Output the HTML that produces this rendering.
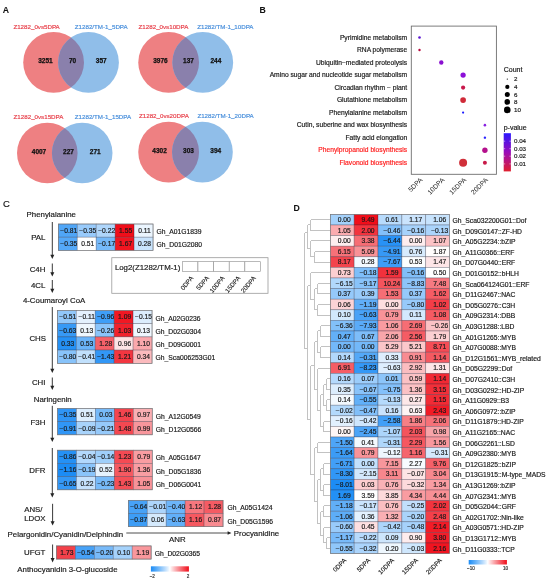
<!DOCTYPE html>
<html><head><meta charset="utf-8"><title>Figure</title>
<style>html,body{margin:0;padding:0;background:#fff;} svg{display:block;}</style></head>
<body><svg width="550" height="580" viewBox="0 0 550 580" font-family="'Liberation Sans', Arial, Helvetica, sans-serif">
<rect width="550" height="580" fill="#fff"/>
<text x="2.80" y="12.70" font-size="8.7" text-anchor="start" font-weight="bold" fill="#111" stroke="#111" stroke-width="0.05">A</text>
<clipPath id="vc0"><circle cx="53.6" cy="62.4" r="30.4"/></clipPath>
<circle cx="53.6" cy="62.4" r="30.4" fill="#ee8082"/>
<circle cx="88.5" cy="62.4" r="30.4" fill="#90bee9"/>
<circle cx="88.5" cy="62.4" r="30.4" fill="#8a80ac" clip-path="url(#vc0)"/>
<text x="13.40" y="29.20" font-size="6.2" text-anchor="start" fill="#e8424c"  stroke="#e8424c" stroke-width="0.18">Z1282_0vs5DPA</text>
<text x="74.80" y="29.20" font-size="6.2" text-anchor="start" fill="#4a90dc"  stroke="#4a90dc" stroke-width="0.18">Z1282/TM-1_5DPA</text>
<text x="45.40" y="63.20" font-size="6.5" text-anchor="middle" font-weight="bold" fill="#111" stroke="#111" stroke-width="0.25">3251</text>
<text x="72.50" y="63.20" font-size="6.5" text-anchor="middle" font-weight="bold" fill="#111" stroke="#111" stroke-width="0.25">70</text>
<text x="101.30" y="63.20" font-size="6.5" text-anchor="middle" font-weight="bold" fill="#111" stroke="#111" stroke-width="0.25">357</text>
<clipPath id="vc1"><circle cx="168.65" cy="62.45" r="30.4"/></clipPath>
<circle cx="168.65" cy="62.45" r="30.4" fill="#ee8082"/>
<circle cx="202.75" cy="62.45" r="30.4" fill="#90bee9"/>
<circle cx="202.75" cy="62.45" r="30.4" fill="#8a80ac" clip-path="url(#vc1)"/>
<text x="138.60" y="29.10" font-size="6.2" text-anchor="start" fill="#e8424c"  stroke="#e8424c" stroke-width="0.18">Z1282_0vs10DPA</text>
<text x="197.20" y="29.10" font-size="6.2" text-anchor="start" fill="#4a90dc"  stroke="#4a90dc" stroke-width="0.18">Z1282/TM-1_10DPA</text>
<text x="160.40" y="63.25" font-size="6.5" text-anchor="middle" font-weight="bold" fill="#111" stroke="#111" stroke-width="0.25">3976</text>
<text x="188.50" y="63.25" font-size="6.5" text-anchor="middle" font-weight="bold" fill="#111" stroke="#111" stroke-width="0.25">137</text>
<text x="215.90" y="63.25" font-size="6.5" text-anchor="middle" font-weight="bold" fill="#111" stroke="#111" stroke-width="0.25">244</text>
<clipPath id="vc2"><circle cx="47.3" cy="153.0" r="30.3"/></clipPath>
<circle cx="47.3" cy="153.0" r="30.3" fill="#ee8082"/>
<circle cx="82.2" cy="153.0" r="30.3" fill="#90bee9"/>
<circle cx="82.2" cy="153.0" r="30.3" fill="#8a80ac" clip-path="url(#vc2)"/>
<text x="13.60" y="119.10" font-size="6.2" text-anchor="start" fill="#e8424c"  stroke="#e8424c" stroke-width="0.18">Z1282_0vs15DPA</text>
<text x="74.80" y="119.10" font-size="6.2" text-anchor="start" fill="#4a90dc"  stroke="#4a90dc" stroke-width="0.18">Z1282/TM-1_15DPA</text>
<text x="39.00" y="153.80" font-size="6.5" text-anchor="middle" font-weight="bold" fill="#111" stroke="#111" stroke-width="0.25">4007</text>
<text x="68.50" y="153.80" font-size="6.5" text-anchor="middle" font-weight="bold" fill="#111" stroke="#111" stroke-width="0.25">227</text>
<text x="95.20" y="153.80" font-size="6.5" text-anchor="middle" font-weight="bold" fill="#111" stroke="#111" stroke-width="0.25">271</text>
<clipPath id="vc3"><circle cx="168.65" cy="152.1" r="30.4"/></clipPath>
<circle cx="168.65" cy="152.1" r="30.4" fill="#ee8082"/>
<circle cx="202.4" cy="152.1" r="30.4" fill="#90bee9"/>
<circle cx="202.4" cy="152.1" r="30.4" fill="#8a80ac" clip-path="url(#vc3)"/>
<text x="139.00" y="117.90" font-size="6.2" text-anchor="start" fill="#e8424c"  stroke="#e8424c" stroke-width="0.18">Z1282_0vs20DPA</text>
<text x="197.40" y="117.90" font-size="6.2" text-anchor="start" fill="#4a90dc"  stroke="#4a90dc" stroke-width="0.18">Z1282/TM-1_20DPA</text>
<text x="159.60" y="152.90" font-size="6.5" text-anchor="middle" font-weight="bold" fill="#111" stroke="#111" stroke-width="0.25">4302</text>
<text x="188.50" y="152.90" font-size="6.5" text-anchor="middle" font-weight="bold" fill="#111" stroke="#111" stroke-width="0.25">303</text>
<text x="215.70" y="152.90" font-size="6.5" text-anchor="middle" font-weight="bold" fill="#111" stroke="#111" stroke-width="0.25">394</text>
<text x="259.40" y="12.70" font-size="8.7" text-anchor="start" font-weight="bold" fill="#111" stroke="#111" stroke-width="0.05">B</text>
<text x="407.20" y="39.80" font-size="6.7" text-anchor="end" fill="#1a1a1a"  stroke="#1a1a1a" stroke-width="0.18">Pyrimidine metabolism</text>
<text x="407.20" y="52.32" font-size="6.7" text-anchor="end" fill="#1a1a1a"  stroke="#1a1a1a" stroke-width="0.18">RNA polymerase</text>
<text x="407.20" y="64.84" font-size="6.7" text-anchor="end" fill="#1a1a1a"  stroke="#1a1a1a" stroke-width="0.18">Ubiquitin−mediated proteolysis</text>
<text x="407.20" y="77.36" font-size="6.7" text-anchor="end" fill="#1a1a1a"  stroke="#1a1a1a" stroke-width="0.18">Amino sugar and nucleotide sugar metabolism</text>
<text x="407.20" y="89.88" font-size="6.7" text-anchor="end" fill="#1a1a1a"  stroke="#1a1a1a" stroke-width="0.18">Circadian rhythm − plant</text>
<text x="407.20" y="102.40" font-size="6.7" text-anchor="end" fill="#1a1a1a"  stroke="#1a1a1a" stroke-width="0.18">Glutathione metabolism</text>
<text x="407.20" y="114.92" font-size="6.7" text-anchor="end" fill="#1a1a1a"  stroke="#1a1a1a" stroke-width="0.18">Phenylalanine metabolism</text>
<text x="407.20" y="127.44" font-size="6.7" text-anchor="end" fill="#1a1a1a"  stroke="#1a1a1a" stroke-width="0.18">Cutin, suberine and wax biosynthesis</text>
<text x="407.20" y="139.96" font-size="6.7" text-anchor="end" fill="#1a1a1a"  stroke="#1a1a1a" stroke-width="0.18">Fatty acid elongation</text>
<text x="407.20" y="152.48" font-size="6.7" text-anchor="end" fill="#ff2020"  stroke="#ff2020" stroke-width="0.18">Phenylpropanoid biosynthesis</text>
<text x="407.20" y="165.00" font-size="6.7" text-anchor="end" fill="#ff2020"  stroke="#ff2020" stroke-width="0.18">Flavonoid biosynthesis</text>
<rect x="411.3" y="26.1" width="85.1" height="148.2" fill="none" stroke="#6e6e6e" stroke-width="0.9"/>
<circle cx="419.5" cy="37.50" r="1.3" fill="#5a14d2"/>
<circle cx="419.5" cy="50.02" r="1.2" fill="#b8083c"/>
<circle cx="441.3" cy="62.54" r="2.2" fill="#8a10d0"/>
<circle cx="463.1" cy="75.06" r="2.65" fill="#8c10d8"/>
<circle cx="463.1" cy="87.58" r="2.1" fill="#c8184c"/>
<circle cx="463.1" cy="100.10" r="2.85" fill="#d02a38"/>
<circle cx="463.1" cy="112.62" r="1.1" fill="#1a1aff"/>
<circle cx="484.9" cy="125.14" r="1.3" fill="#8a22e0"/>
<circle cx="484.9" cy="137.66" r="1.2" fill="#2a22ff"/>
<circle cx="484.9" cy="150.18" r="2.7" fill="#b4108c"/>
<circle cx="463.1" cy="162.70" r="4.0" fill="#d0303a"/>
<circle cx="484.9" cy="162.70" r="2.0" fill="#c81a48"/>
<text x="423.00" y="180.30" font-size="6.7" text-anchor="end" fill="#1a1a1a" transform="rotate(-45 423.00 180.30)">5DPA</text>
<text x="444.80" y="180.30" font-size="6.7" text-anchor="end" fill="#1a1a1a" transform="rotate(-45 444.80 180.30)">10DPA</text>
<text x="466.60" y="180.30" font-size="6.7" text-anchor="end" fill="#1a1a1a" transform="rotate(-45 466.60 180.30)">15DPA</text>
<text x="488.40" y="180.30" font-size="6.7" text-anchor="end" fill="#1a1a1a" transform="rotate(-45 488.40 180.30)">20DPA</text>
<text x="503.70" y="71.90" font-size="7.0" text-anchor="start" fill="#1a1a1a"  stroke="#1a1a1a" stroke-width="0.18">Count</text>
<circle cx="507.3" cy="79.1" r="0.6" fill="#000"/>
<text x="514.00" y="81.30" font-size="6.2" text-anchor="start" fill="#1a1a1a"  stroke="#1a1a1a" stroke-width="0.18">2</text>
<circle cx="507.3" cy="86.9" r="2.1" fill="#000"/>
<text x="514.00" y="89.10" font-size="6.2" text-anchor="start" fill="#1a1a1a"  stroke="#1a1a1a" stroke-width="0.18">4</text>
<circle cx="507.3" cy="94.4" r="2.5" fill="#000"/>
<text x="514.00" y="96.60" font-size="6.2" text-anchor="start" fill="#1a1a1a"  stroke="#1a1a1a" stroke-width="0.18">6</text>
<circle cx="507.3" cy="101.9" r="2.8" fill="#000"/>
<text x="514.00" y="104.10" font-size="6.2" text-anchor="start" fill="#1a1a1a"  stroke="#1a1a1a" stroke-width="0.18">8</text>
<circle cx="507.3" cy="109.9" r="3.3" fill="#000"/>
<text x="514.00" y="112.10" font-size="6.2" text-anchor="start" fill="#1a1a1a"  stroke="#1a1a1a" stroke-width="0.18">10</text>
<text x="503.70" y="130.00" font-size="7.0" text-anchor="start" fill="#1a1a1a"  stroke="#1a1a1a" stroke-width="0.18">p-value</text>
<defs><linearGradient id="pg" x1="0" y1="0" x2="0" y2="1"><stop offset="0" stop-color="#2a18ff"/><stop offset="0.5" stop-color="#9a0cb8"/><stop offset="1" stop-color="#e0202e"/></linearGradient></defs>
<rect x="503.7" y="133.2" width="7.2" height="38.2" fill="url(#pg)"/>
<line x1="503.7" x2="505.2" y1="141.2" y2="141.2" stroke="#fff" stroke-width="0.5"/>
<line x1="509.4" x2="510.9" y1="141.2" y2="141.2" stroke="#fff" stroke-width="0.5"/>
<text x="514.00" y="143.40" font-size="6.2" text-anchor="start" fill="#1a1a1a"  stroke="#1a1a1a" stroke-width="0.18">0.04</text>
<line x1="503.7" x2="505.2" y1="148.7" y2="148.7" stroke="#fff" stroke-width="0.5"/>
<line x1="509.4" x2="510.9" y1="148.7" y2="148.7" stroke="#fff" stroke-width="0.5"/>
<text x="514.00" y="150.90" font-size="6.2" text-anchor="start" fill="#1a1a1a"  stroke="#1a1a1a" stroke-width="0.18">0.03</text>
<line x1="503.7" x2="505.2" y1="156.2" y2="156.2" stroke="#fff" stroke-width="0.5"/>
<line x1="509.4" x2="510.9" y1="156.2" y2="156.2" stroke="#fff" stroke-width="0.5"/>
<text x="514.00" y="158.40" font-size="6.2" text-anchor="start" fill="#1a1a1a"  stroke="#1a1a1a" stroke-width="0.18">0.02</text>
<line x1="503.7" x2="505.2" y1="163.9" y2="163.9" stroke="#fff" stroke-width="0.5"/>
<line x1="509.4" x2="510.9" y1="163.9" y2="163.9" stroke="#fff" stroke-width="0.5"/>
<text x="514.00" y="166.10" font-size="6.2" text-anchor="start" fill="#1a1a1a"  stroke="#1a1a1a" stroke-width="0.18">0.01</text>
<text x="2.90" y="206.90" font-size="9.5" text-anchor="start" fill="#111" stroke="#111" stroke-width="0.15">C</text>
<text x="26.60" y="217.00" font-size="7.85" text-anchor="start" fill="#1a1a1a"  stroke="#1a1a1a" stroke-width="0.18">Phenylalanine</text>
<text x="45.40" y="240.00" font-size="7.85" text-anchor="end" fill="#1a1a1a"  stroke="#1a1a1a" stroke-width="0.18">PAL</text>
<line x1="52.3" y1="222" x2="52.3" y2="256" stroke="#222" stroke-width="0.9"/>
<path d="M50.3,254.7 L54.3,254.7 L52.3,259 Z" fill="#222"/>
<rect x="58.30" y="224.00" width="18.95" height="13.20" fill="#50a6f7" stroke="rgba(40,40,60,0.45)" stroke-width="0.6"/>
<text x="68.77" y="232.95" font-size="6.7" text-anchor="middle" fill="#1a1a1a"  stroke="#1a1a1a" stroke-width="0.18">−0.81</text>
<rect x="77.25" y="224.00" width="18.95" height="13.20" fill="#99cbfb" stroke="rgba(40,40,60,0.45)" stroke-width="0.6"/>
<text x="87.72" y="232.95" font-size="6.7" text-anchor="middle" fill="#1a1a1a"  stroke="#1a1a1a" stroke-width="0.18">−0.35</text>
<rect x="96.20" y="224.00" width="18.95" height="13.20" fill="#afd6fb" stroke="rgba(40,40,60,0.45)" stroke-width="0.6"/>
<text x="106.67" y="232.95" font-size="6.7" text-anchor="middle" fill="#1a1a1a"  stroke="#1a1a1a" stroke-width="0.18">−0.22</text>
<rect x="115.15" y="224.00" width="18.95" height="13.20" fill="#f00e1a" stroke="rgba(40,40,60,0.45)" stroke-width="0.6"/>
<text x="125.62" y="232.95" font-size="6.7" text-anchor="middle" fill="#1a1a1a"  stroke="#1a1a1a" stroke-width="0.18">1.55</text>
<rect x="134.10" y="224.00" width="18.95" height="13.20" fill="#ebf5fe" stroke="rgba(40,40,60,0.45)" stroke-width="0.6"/>
<text x="144.57" y="232.95" font-size="6.7" text-anchor="middle" fill="#1a1a1a"  stroke="#1a1a1a" stroke-width="0.18">0.11</text>
<text x="156.55" y="234.10" font-size="6.75" text-anchor="start" fill="#1a1a1a"  stroke="#1a1a1a" stroke-width="0.18">Gh_A01G1839</text>
<rect x="58.30" y="237.20" width="18.95" height="13.20" fill="#55a9f8" stroke="rgba(40,40,60,0.45)" stroke-width="0.6"/>
<text x="68.77" y="246.15" font-size="6.7" text-anchor="middle" fill="#1a1a1a"  stroke="#1a1a1a" stroke-width="0.18">−0.35</text>
<rect x="77.25" y="237.20" width="18.95" height="13.20" fill="#feffff" stroke="rgba(40,40,60,0.45)" stroke-width="0.6"/>
<text x="87.72" y="246.15" font-size="6.7" text-anchor="middle" fill="#1a1a1a"  stroke="#1a1a1a" stroke-width="0.18">0.51</text>
<rect x="96.20" y="237.20" width="18.95" height="13.20" fill="#75b9f9" stroke="rgba(40,40,60,0.45)" stroke-width="0.6"/>
<text x="106.67" y="246.15" font-size="6.7" text-anchor="middle" fill="#1a1a1a"  stroke="#1a1a1a" stroke-width="0.18">−0.17</text>
<rect x="115.15" y="237.20" width="18.95" height="13.20" fill="#f01521" stroke="rgba(40,40,60,0.45)" stroke-width="0.6"/>
<text x="125.62" y="246.15" font-size="6.7" text-anchor="middle" fill="#1a1a1a"  stroke="#1a1a1a" stroke-width="0.18">1.67</text>
<rect x="134.10" y="237.20" width="18.95" height="13.20" fill="#c9e4fd" stroke="rgba(40,40,60,0.45)" stroke-width="0.6"/>
<text x="144.57" y="246.15" font-size="6.7" text-anchor="middle" fill="#1a1a1a"  stroke="#1a1a1a" stroke-width="0.18">0.28</text>
<text x="156.55" y="247.30" font-size="6.75" text-anchor="start" fill="#1a1a1a"  stroke="#1a1a1a" stroke-width="0.18">Gh_D01G2080</text>
<rect x="58.30" y="224.00" width="94.75" height="26.40" fill="none" stroke="#7a7a7a" stroke-width="0.6"/>
<text x="45.40" y="271.80" font-size="7.85" text-anchor="end" fill="#1a1a1a"  stroke="#1a1a1a" stroke-width="0.18">C4H</text>
<line x1="52.3" y1="263.5" x2="52.3" y2="273.6" stroke="#222" stroke-width="0.9"/>
<path d="M50.3,272.3 L54.3,272.3 L52.3,276.6 Z" fill="#222"/>
<text x="45.40" y="288.30" font-size="7.85" text-anchor="end" fill="#1a1a1a"  stroke="#1a1a1a" stroke-width="0.18">4CL</text>
<line x1="52.3" y1="280" x2="52.3" y2="290" stroke="#222" stroke-width="0.9"/>
<path d="M50.3,288.7 L54.3,288.7 L52.3,293 Z" fill="#222"/>
<rect x="111.8" y="257.7" width="156.2" height="35.6" fill="none" stroke="#9a9a9a" stroke-width="0.8"/>
<text x="114.90" y="269.60" font-size="7.85" text-anchor="start" fill="#1a1a1a"  stroke="#1a1a1a" stroke-width="0.18">Log2(Z1282/TM-1)</text>
<rect x="182.30" y="261.7" width="15.64" height="9.9" fill="#fff" stroke="#8c8c8c" stroke-width="0.6"/>
<rect x="197.94" y="261.7" width="15.64" height="9.9" fill="#fff" stroke="#8c8c8c" stroke-width="0.6"/>
<rect x="213.58" y="261.7" width="15.64" height="9.9" fill="#fff" stroke="#8c8c8c" stroke-width="0.6"/>
<rect x="229.22" y="261.7" width="15.64" height="9.9" fill="#fff" stroke="#8c8c8c" stroke-width="0.6"/>
<rect x="244.86" y="261.7" width="15.64" height="9.9" fill="#fff" stroke="#8c8c8c" stroke-width="0.6"/>
<text x="193.70" y="278.30" font-size="6.3" text-anchor="end" fill="#1a1a1a" stroke="#1a1a1a" stroke-width="0.12" transform="rotate(-50 193.70 278.30)">0DPA</text>
<text x="209.34" y="278.30" font-size="6.3" text-anchor="end" fill="#1a1a1a" stroke="#1a1a1a" stroke-width="0.12" transform="rotate(-50 209.34 278.30)">5DPA</text>
<text x="224.98" y="278.30" font-size="6.3" text-anchor="end" fill="#1a1a1a" stroke="#1a1a1a" stroke-width="0.12" transform="rotate(-50 224.98 278.30)">10DPA</text>
<text x="240.62" y="278.30" font-size="6.3" text-anchor="end" fill="#1a1a1a" stroke="#1a1a1a" stroke-width="0.12" transform="rotate(-50 240.62 278.30)">15DPA</text>
<text x="256.26" y="278.30" font-size="6.3" text-anchor="end" fill="#1a1a1a" stroke="#1a1a1a" stroke-width="0.12" transform="rotate(-50 256.26 278.30)">20DPA</text>
<text x="22.90" y="303.40" font-size="7.85" text-anchor="start" fill="#1a1a1a"  stroke="#1a1a1a" stroke-width="0.18">4-Coumaroyl CoA</text>
<line x1="52.3" y1="307" x2="52.3" y2="370" stroke="#222" stroke-width="0.9"/>
<path d="M50.3,368.7 L54.3,368.7 L52.3,373 Z" fill="#222"/>
<text x="46.00" y="341.40" font-size="7.85" text-anchor="end" fill="#1a1a1a"  stroke="#1a1a1a" stroke-width="0.18">CHS</text>
<rect x="57.30" y="310.50" width="18.95" height="13.20" fill="#92c8fa" stroke="rgba(40,40,60,0.45)" stroke-width="0.6"/>
<text x="67.77" y="319.45" font-size="6.7" text-anchor="middle" fill="#1a1a1a"  stroke="#1a1a1a" stroke-width="0.18">−0.51</text>
<rect x="76.25" y="310.50" width="18.95" height="13.20" fill="#e4f1fe" stroke="rgba(40,40,60,0.45)" stroke-width="0.6"/>
<text x="86.72" y="319.45" font-size="6.7" text-anchor="middle" fill="#1a1a1a"  stroke="#1a1a1a" stroke-width="0.18">−0.11</text>
<rect x="95.20" y="310.50" width="18.95" height="13.20" fill="#3f9ef7" stroke="rgba(40,40,60,0.45)" stroke-width="0.6"/>
<text x="105.67" y="319.45" font-size="6.7" text-anchor="middle" fill="#1a1a1a"  stroke="#1a1a1a" stroke-width="0.18">−0.96</text>
<rect x="114.15" y="310.50" width="18.95" height="13.20" fill="#f11823" stroke="rgba(40,40,60,0.45)" stroke-width="0.6"/>
<text x="124.62" y="319.45" font-size="6.7" text-anchor="middle" fill="#1a1a1a"  stroke="#1a1a1a" stroke-width="0.18">1.09</text>
<rect x="133.10" y="310.50" width="18.95" height="13.20" fill="#dbedfd" stroke="rgba(40,40,60,0.45)" stroke-width="0.6"/>
<text x="143.57" y="319.45" font-size="6.7" text-anchor="middle" fill="#1a1a1a"  stroke="#1a1a1a" stroke-width="0.18">−0.15</text>
<text x="155.55" y="320.60" font-size="6.75" text-anchor="start" fill="#1a1a1a"  stroke="#1a1a1a" stroke-width="0.18">Gh_A02G0236</text>
<rect x="57.30" y="323.70" width="18.95" height="13.20" fill="#379af6" stroke="rgba(40,40,60,0.45)" stroke-width="0.6"/>
<text x="67.77" y="332.65" font-size="6.7" text-anchor="middle" fill="#1a1a1a"  stroke="#1a1a1a" stroke-width="0.18">−0.63</text>
<rect x="76.25" y="323.70" width="18.95" height="13.20" fill="#eff7fe" stroke="rgba(40,40,60,0.45)" stroke-width="0.6"/>
<text x="86.72" y="332.65" font-size="6.7" text-anchor="middle" fill="#1a1a1a"  stroke="#1a1a1a" stroke-width="0.18">0.13</text>
<rect x="95.20" y="323.70" width="18.95" height="13.20" fill="#8bc4fa" stroke="rgba(40,40,60,0.45)" stroke-width="0.6"/>
<text x="105.67" y="332.65" font-size="6.7" text-anchor="middle" fill="#1a1a1a"  stroke="#1a1a1a" stroke-width="0.18">−0.26</text>
<rect x="114.15" y="323.70" width="18.95" height="13.20" fill="#f1212c" stroke="rgba(40,40,60,0.45)" stroke-width="0.6"/>
<text x="124.62" y="332.65" font-size="6.7" text-anchor="middle" fill="#1a1a1a"  stroke="#1a1a1a" stroke-width="0.18">1.03</text>
<rect x="133.10" y="323.70" width="18.95" height="13.20" fill="#eff7fe" stroke="rgba(40,40,60,0.45)" stroke-width="0.6"/>
<text x="143.57" y="332.65" font-size="6.7" text-anchor="middle" fill="#1a1a1a"  stroke="#1a1a1a" stroke-width="0.18">0.13</text>
<text x="155.55" y="333.80" font-size="6.75" text-anchor="start" fill="#1a1a1a"  stroke="#1a1a1a" stroke-width="0.18">Gh_D02G0304</text>
<rect x="57.30" y="336.90" width="18.95" height="13.20" fill="#2591f5" stroke="rgba(40,40,60,0.45)" stroke-width="0.6"/>
<text x="67.77" y="345.85" font-size="6.7" text-anchor="middle" fill="#1a1a1a"  stroke="#1a1a1a" stroke-width="0.18">0.33</text>
<rect x="76.25" y="336.90" width="18.95" height="13.20" fill="#6ab3f8" stroke="rgba(40,40,60,0.45)" stroke-width="0.6"/>
<text x="86.72" y="345.85" font-size="6.7" text-anchor="middle" fill="#1a1a1a"  stroke="#1a1a1a" stroke-width="0.18">0.53</text>
<rect x="95.20" y="336.90" width="18.95" height="13.20" fill="#f56169" stroke="rgba(40,40,60,0.45)" stroke-width="0.6"/>
<text x="105.67" y="345.85" font-size="6.7" text-anchor="middle" fill="#1a1a1a"  stroke="#1a1a1a" stroke-width="0.18">1.28</text>
<rect x="114.15" y="336.90" width="18.95" height="13.20" fill="#fde3e4" stroke="rgba(40,40,60,0.45)" stroke-width="0.6"/>
<text x="124.62" y="345.85" font-size="6.7" text-anchor="middle" fill="#1a1a1a"  stroke="#1a1a1a" stroke-width="0.18">0.96</text>
<rect x="133.10" y="336.90" width="18.95" height="13.20" fill="#faa8ac" stroke="rgba(40,40,60,0.45)" stroke-width="0.6"/>
<text x="143.57" y="345.85" font-size="6.7" text-anchor="middle" fill="#1a1a1a"  stroke="#1a1a1a" stroke-width="0.18">1.10</text>
<text x="155.55" y="347.00" font-size="6.75" text-anchor="start" fill="#1a1a1a"  stroke="#1a1a1a" stroke-width="0.18">Gh_D09G0001</text>
<rect x="57.30" y="350.10" width="18.95" height="13.20" fill="#88c3fa" stroke="rgba(40,40,60,0.45)" stroke-width="0.6"/>
<text x="67.77" y="359.05" font-size="6.7" text-anchor="middle" fill="#1a1a1a"  stroke="#1a1a1a" stroke-width="0.18">−0.80</text>
<rect x="76.25" y="350.10" width="18.95" height="13.20" fill="#c1e0fc" stroke="rgba(40,40,60,0.45)" stroke-width="0.6"/>
<text x="86.72" y="359.05" font-size="6.7" text-anchor="middle" fill="#1a1a1a"  stroke="#1a1a1a" stroke-width="0.18">−0.41</text>
<rect x="95.20" y="350.10" width="18.95" height="13.20" fill="#3297f6" stroke="rgba(40,40,60,0.45)" stroke-width="0.6"/>
<text x="105.67" y="359.05" font-size="6.7" text-anchor="middle" fill="#1a1a1a"  stroke="#1a1a1a" stroke-width="0.18">−1.43</text>
<rect x="114.15" y="350.10" width="18.95" height="13.20" fill="#f23640" stroke="rgba(40,40,60,0.45)" stroke-width="0.6"/>
<text x="124.62" y="359.05" font-size="6.7" text-anchor="middle" fill="#1a1a1a"  stroke="#1a1a1a" stroke-width="0.18">1.21</text>
<rect x="133.10" y="350.10" width="18.95" height="13.20" fill="#fbbabd" stroke="rgba(40,40,60,0.45)" stroke-width="0.6"/>
<text x="143.57" y="359.05" font-size="6.7" text-anchor="middle" fill="#1a1a1a"  stroke="#1a1a1a" stroke-width="0.18">0.34</text>
<text x="155.55" y="360.20" font-size="6.75" text-anchor="start" fill="#1a1a1a"  stroke="#1a1a1a" stroke-width="0.18">Gh_Sca006253G01</text>
<rect x="57.30" y="310.50" width="94.75" height="52.80" fill="none" stroke="#7a7a7a" stroke-width="0.6"/>
<text x="45.40" y="385.10" font-size="7.85" text-anchor="end" fill="#1a1a1a"  stroke="#1a1a1a" stroke-width="0.18">CHI</text>
<line x1="52.3" y1="377.5" x2="52.3" y2="387" stroke="#222" stroke-width="0.9"/>
<path d="M50.3,385.7 L54.3,385.7 L52.3,390 Z" fill="#222"/>
<text x="33.80" y="402.30" font-size="7.85" text-anchor="start" fill="#1a1a1a"  stroke="#1a1a1a" stroke-width="0.18">Naringenin</text>
<line x1="52.3" y1="405.8" x2="52.3" y2="439" stroke="#222" stroke-width="0.9"/>
<path d="M50.3,437.7 L54.3,437.7 L52.3,442 Z" fill="#222"/>
<text x="45.40" y="425.00" font-size="7.85" text-anchor="end" fill="#1a1a1a"  stroke="#1a1a1a" stroke-width="0.18">F3H</text>
<rect x="57.50" y="408.40" width="18.95" height="13.20" fill="#2f95f6" stroke="rgba(40,40,60,0.45)" stroke-width="0.6"/>
<text x="67.97" y="417.35" font-size="6.7" text-anchor="middle" fill="#1a1a1a"  stroke="#1a1a1a" stroke-width="0.18">−0.35</text>
<rect x="76.45" y="408.40" width="18.95" height="13.20" fill="#ddeefd" stroke="rgba(40,40,60,0.45)" stroke-width="0.6"/>
<text x="86.92" y="417.35" font-size="6.7" text-anchor="middle" fill="#1a1a1a"  stroke="#1a1a1a" stroke-width="0.18">0.51</text>
<rect x="95.40" y="408.40" width="18.95" height="13.20" fill="#77baf9" stroke="rgba(40,40,60,0.45)" stroke-width="0.6"/>
<text x="105.88" y="417.35" font-size="6.7" text-anchor="middle" fill="#1a1a1a"  stroke="#1a1a1a" stroke-width="0.18">0.03</text>
<rect x="114.35" y="408.40" width="18.95" height="13.20" fill="#f3444e" stroke="rgba(40,40,60,0.45)" stroke-width="0.6"/>
<text x="124.82" y="417.35" font-size="6.7" text-anchor="middle" fill="#1a1a1a"  stroke="#1a1a1a" stroke-width="0.18">1.46</text>
<rect x="133.30" y="408.40" width="18.95" height="13.20" fill="#faaeb2" stroke="rgba(40,40,60,0.45)" stroke-width="0.6"/>
<text x="143.78" y="417.35" font-size="6.7" text-anchor="middle" fill="#1a1a1a"  stroke="#1a1a1a" stroke-width="0.18">0.97</text>
<text x="155.75" y="418.50" font-size="6.75" text-anchor="start" fill="#1a1a1a"  stroke="#1a1a1a" stroke-width="0.18">Gh_A12G0549</text>
<rect x="57.50" y="421.60" width="18.95" height="13.20" fill="#3096f6" stroke="rgba(40,40,60,0.45)" stroke-width="0.6"/>
<text x="67.97" y="430.55" font-size="6.7" text-anchor="middle" fill="#1a1a1a"  stroke="#1a1a1a" stroke-width="0.18">−0.91</text>
<rect x="76.45" y="421.60" width="18.95" height="13.20" fill="#a8d3fb" stroke="rgba(40,40,60,0.45)" stroke-width="0.6"/>
<text x="86.92" y="430.55" font-size="6.7" text-anchor="middle" fill="#1a1a1a"  stroke="#1a1a1a" stroke-width="0.18">−0.09</text>
<rect x="95.40" y="421.60" width="18.95" height="13.20" fill="#95c9fa" stroke="rgba(40,40,60,0.45)" stroke-width="0.6"/>
<text x="105.88" y="430.55" font-size="6.7" text-anchor="middle" fill="#1a1a1a"  stroke="#1a1a1a" stroke-width="0.18">−0.21</text>
<rect x="114.35" y="421.60" width="18.95" height="13.20" fill="#f44851" stroke="rgba(40,40,60,0.45)" stroke-width="0.6"/>
<text x="124.82" y="430.55" font-size="6.7" text-anchor="middle" fill="#1a1a1a"  stroke="#1a1a1a" stroke-width="0.18">1.48</text>
<rect x="133.30" y="421.60" width="18.95" height="13.20" fill="#f8969c" stroke="rgba(40,40,60,0.45)" stroke-width="0.6"/>
<text x="143.78" y="430.55" font-size="6.7" text-anchor="middle" fill="#1a1a1a"  stroke="#1a1a1a" stroke-width="0.18">0.99</text>
<text x="155.75" y="431.70" font-size="6.75" text-anchor="start" fill="#1a1a1a"  stroke="#1a1a1a" stroke-width="0.18">Gh_D12G0566</text>
<rect x="57.50" y="408.40" width="94.75" height="26.40" fill="none" stroke="#7a7a7a" stroke-width="0.6"/>
<line x1="52.3" y1="448" x2="52.3" y2="494.6" stroke="#222" stroke-width="0.9"/>
<path d="M50.3,493.3 L54.3,493.3 L52.3,497.6 Z" fill="#222"/>
<text x="45.40" y="473.20" font-size="7.85" text-anchor="end" fill="#1a1a1a"  stroke="#1a1a1a" stroke-width="0.18">DFR</text>
<rect x="57.50" y="450.20" width="18.95" height="13.20" fill="#2591f5" stroke="rgba(40,40,60,0.45)" stroke-width="0.6"/>
<text x="67.97" y="459.15" font-size="6.7" text-anchor="middle" fill="#1a1a1a"  stroke="#1a1a1a" stroke-width="0.18">−0.86</text>
<rect x="76.45" y="450.20" width="18.95" height="13.20" fill="#b2d8fc" stroke="rgba(40,40,60,0.45)" stroke-width="0.6"/>
<text x="86.92" y="459.15" font-size="6.7" text-anchor="middle" fill="#1a1a1a"  stroke="#1a1a1a" stroke-width="0.18">−0.04</text>
<rect x="95.40" y="450.20" width="18.95" height="13.20" fill="#9fcffb" stroke="rgba(40,40,60,0.45)" stroke-width="0.6"/>
<text x="105.88" y="459.15" font-size="6.7" text-anchor="middle" fill="#1a1a1a"  stroke="#1a1a1a" stroke-width="0.18">−0.14</text>
<rect x="114.35" y="450.20" width="18.95" height="13.20" fill="#f44a53" stroke="rgba(40,40,60,0.45)" stroke-width="0.6"/>
<text x="124.82" y="459.15" font-size="6.7" text-anchor="middle" fill="#1a1a1a"  stroke="#1a1a1a" stroke-width="0.18">1.23</text>
<rect x="133.30" y="450.20" width="18.95" height="13.20" fill="#f99da2" stroke="rgba(40,40,60,0.45)" stroke-width="0.6"/>
<text x="143.78" y="459.15" font-size="6.7" text-anchor="middle" fill="#1a1a1a"  stroke="#1a1a1a" stroke-width="0.18">0.79</text>
<text x="155.75" y="460.30" font-size="6.75" text-anchor="start" fill="#1a1a1a"  stroke="#1a1a1a" stroke-width="0.18">Gh_A05G1647</text>
<rect x="57.50" y="463.40" width="18.95" height="13.20" fill="#1c8cf5" stroke="rgba(40,40,60,0.45)" stroke-width="0.6"/>
<text x="67.97" y="472.35" font-size="6.7" text-anchor="middle" fill="#1a1a1a"  stroke="#1a1a1a" stroke-width="0.18">−1.16</text>
<rect x="76.45" y="463.40" width="18.95" height="13.20" fill="#8ac4fa" stroke="rgba(40,40,60,0.45)" stroke-width="0.6"/>
<text x="86.92" y="472.35" font-size="6.7" text-anchor="middle" fill="#1a1a1a"  stroke="#1a1a1a" stroke-width="0.18">−0.19</text>
<rect x="95.40" y="463.40" width="18.95" height="13.20" fill="#e5f2fe" stroke="rgba(40,40,60,0.45)" stroke-width="0.6"/>
<text x="105.88" y="472.35" font-size="6.7" text-anchor="middle" fill="#1a1a1a"  stroke="#1a1a1a" stroke-width="0.18">0.52</text>
<rect x="114.35" y="463.40" width="18.95" height="13.20" fill="#f55961" stroke="rgba(40,40,60,0.45)" stroke-width="0.6"/>
<text x="124.82" y="472.35" font-size="6.7" text-anchor="middle" fill="#1a1a1a"  stroke="#1a1a1a" stroke-width="0.18">1.90</text>
<rect x="133.30" y="463.40" width="18.95" height="13.20" fill="#f99ea3" stroke="rgba(40,40,60,0.45)" stroke-width="0.6"/>
<text x="143.78" y="472.35" font-size="6.7" text-anchor="middle" fill="#1a1a1a"  stroke="#1a1a1a" stroke-width="0.18">1.36</text>
<text x="155.75" y="473.50" font-size="6.75" text-anchor="start" fill="#1a1a1a"  stroke="#1a1a1a" stroke-width="0.18">Gh_D05G1836</text>
<rect x="57.50" y="476.60" width="18.95" height="13.20" fill="#3498f6" stroke="rgba(40,40,60,0.45)" stroke-width="0.6"/>
<text x="67.97" y="485.55" font-size="6.7" text-anchor="middle" fill="#1a1a1a"  stroke="#1a1a1a" stroke-width="0.18">−0.65</text>
<rect x="76.45" y="476.60" width="18.95" height="13.20" fill="#c5e1fc" stroke="rgba(40,40,60,0.45)" stroke-width="0.6"/>
<text x="86.92" y="485.55" font-size="6.7" text-anchor="middle" fill="#1a1a1a"  stroke="#1a1a1a" stroke-width="0.18">0.22</text>
<rect x="95.40" y="476.60" width="18.95" height="13.20" fill="#77baf9" stroke="rgba(40,40,60,0.45)" stroke-width="0.6"/>
<text x="105.88" y="485.55" font-size="6.7" text-anchor="middle" fill="#1a1a1a"  stroke="#1a1a1a" stroke-width="0.18">−0.23</text>
<rect x="114.35" y="476.60" width="18.95" height="13.20" fill="#f44f57" stroke="rgba(40,40,60,0.45)" stroke-width="0.6"/>
<text x="124.82" y="485.55" font-size="6.7" text-anchor="middle" fill="#1a1a1a"  stroke="#1a1a1a" stroke-width="0.18">1.43</text>
<rect x="133.30" y="476.60" width="18.95" height="13.20" fill="#f89298" stroke="rgba(40,40,60,0.45)" stroke-width="0.6"/>
<text x="143.78" y="485.55" font-size="6.7" text-anchor="middle" fill="#1a1a1a"  stroke="#1a1a1a" stroke-width="0.18">1.05</text>
<text x="155.75" y="486.70" font-size="6.75" text-anchor="start" fill="#1a1a1a"  stroke="#1a1a1a" stroke-width="0.18">Gh_D06G0041</text>
<rect x="57.50" y="450.20" width="94.75" height="39.60" fill="none" stroke="#7a7a7a" stroke-width="0.6"/>
<text x="24.20" y="511.70" font-size="7.85" text-anchor="start" fill="#1a1a1a"  stroke="#1a1a1a" stroke-width="0.18">ANS/</text>
<text x="24.20" y="520.60" font-size="7.85" text-anchor="start" fill="#1a1a1a"  stroke="#1a1a1a" stroke-width="0.18">LDOX</text>
<line x1="52.599999999999994" y1="503.8" x2="52.599999999999994" y2="522.5" stroke="#222" stroke-width="0.9"/>
<path d="M50.599999999999994,521.2 L54.599999999999994,521.2 L52.599999999999994,525.5 Z" fill="#222"/>
<rect x="128.30" y="500.30" width="18.95" height="13.20" fill="#47a2f7" stroke="rgba(40,40,60,0.45)" stroke-width="0.6"/>
<text x="138.78" y="509.25" font-size="6.7" text-anchor="middle" fill="#1a1a1a"  stroke="#1a1a1a" stroke-width="0.18">−0.64</text>
<rect x="147.25" y="500.30" width="18.95" height="13.20" fill="#add5fb" stroke="rgba(40,40,60,0.45)" stroke-width="0.6"/>
<text x="157.72" y="509.25" font-size="6.7" text-anchor="middle" fill="#1a1a1a"  stroke="#1a1a1a" stroke-width="0.18">−0.01</text>
<rect x="166.20" y="500.30" width="18.95" height="13.20" fill="#6cb5f9" stroke="rgba(40,40,60,0.45)" stroke-width="0.6"/>
<text x="176.68" y="509.25" font-size="6.7" text-anchor="middle" fill="#1a1a1a"  stroke="#1a1a1a" stroke-width="0.18">−0.40</text>
<rect x="185.15" y="500.30" width="18.95" height="13.20" fill="#f7777e" stroke="rgba(40,40,60,0.45)" stroke-width="0.6"/>
<text x="195.62" y="509.25" font-size="6.7" text-anchor="middle" fill="#1a1a1a"  stroke="#1a1a1a" stroke-width="0.18">1.12</text>
<rect x="204.10" y="500.30" width="18.95" height="13.20" fill="#f55b63" stroke="rgba(40,40,60,0.45)" stroke-width="0.6"/>
<text x="214.58" y="509.25" font-size="6.7" text-anchor="middle" fill="#1a1a1a"  stroke="#1a1a1a" stroke-width="0.18">1.28</text>
<text x="227.60" y="510.40" font-size="6.75" text-anchor="start" fill="#1a1a1a"  stroke="#1a1a1a" stroke-width="0.18">Gh_A05G1424</text>
<rect x="128.30" y="513.50" width="18.95" height="13.20" fill="#3d9df6" stroke="rgba(40,40,60,0.45)" stroke-width="0.6"/>
<text x="138.78" y="522.45" font-size="6.7" text-anchor="middle" fill="#1a1a1a"  stroke="#1a1a1a" stroke-width="0.18">−0.87</text>
<rect x="147.25" y="513.50" width="18.95" height="13.20" fill="#d5eafd" stroke="rgba(40,40,60,0.45)" stroke-width="0.6"/>
<text x="157.72" y="522.45" font-size="6.7" text-anchor="middle" fill="#1a1a1a"  stroke="#1a1a1a" stroke-width="0.18">0.06</text>
<rect x="166.20" y="513.50" width="18.95" height="13.20" fill="#62aff8" stroke="rgba(40,40,60,0.45)" stroke-width="0.6"/>
<text x="176.68" y="522.45" font-size="6.7" text-anchor="middle" fill="#1a1a1a"  stroke="#1a1a1a" stroke-width="0.18">−0.63</text>
<rect x="185.15" y="513.50" width="18.95" height="13.20" fill="#f55860" stroke="rgba(40,40,60,0.45)" stroke-width="0.6"/>
<text x="195.62" y="522.45" font-size="6.7" text-anchor="middle" fill="#1a1a1a"  stroke="#1a1a1a" stroke-width="0.18">1.16</text>
<rect x="204.10" y="513.50" width="18.95" height="13.20" fill="#f88a90" stroke="rgba(40,40,60,0.45)" stroke-width="0.6"/>
<text x="214.58" y="522.45" font-size="6.7" text-anchor="middle" fill="#1a1a1a"  stroke="#1a1a1a" stroke-width="0.18">0.87</text>
<text x="227.60" y="523.60" font-size="6.75" text-anchor="start" fill="#1a1a1a"  stroke="#1a1a1a" stroke-width="0.18">Gh_D05G1596</text>
<rect x="128.30" y="500.30" width="94.75" height="26.40" fill="none" stroke="#7a7a7a" stroke-width="0.6"/>
<text x="7.60" y="536.70" font-size="7.85" text-anchor="start" fill="#1a1a1a"  stroke="#1a1a1a" stroke-width="0.18">Pelargonidin/Cyanidin/Delphindin</text>
<line x1="126.3" y1="533" x2="228" y2="533" stroke="#222" stroke-width="0.8"/>
<path d="M227.6,531.2 L227.6,534.8 L231.4,533 Z" fill="#222"/>
<text x="233.80" y="536.40" font-size="7.85" text-anchor="start" fill="#1a1a1a"  stroke="#1a1a1a" stroke-width="0.18">Procyanidine</text>
<text x="177.30" y="542.20" font-size="7.85" text-anchor="middle" fill="#1a1a1a"  stroke="#1a1a1a" stroke-width="0.18">ANR</text>
<text x="45.40" y="555.00" font-size="7.85" text-anchor="end" fill="#1a1a1a"  stroke="#1a1a1a" stroke-width="0.18">UFGT</text>
<line x1="52.599999999999994" y1="544.5" x2="52.599999999999994" y2="559.4" stroke="#222" stroke-width="0.9"/>
<path d="M50.599999999999994,558.1 L54.599999999999994,558.1 L52.599999999999994,562.4 Z" fill="#222"/>
<rect x="56.40" y="545.90" width="18.95" height="13.20" fill="#f3414a" stroke="rgba(40,40,60,0.45)" stroke-width="0.6"/>
<text x="66.88" y="554.85" font-size="6.7" text-anchor="middle" fill="#1a1a1a"  stroke="#1a1a1a" stroke-width="0.18">1.73</text>
<rect x="75.35" y="545.90" width="18.95" height="13.20" fill="#47a2f7" stroke="rgba(40,40,60,0.45)" stroke-width="0.6"/>
<text x="85.82" y="554.85" font-size="6.7" text-anchor="middle" fill="#1a1a1a"  stroke="#1a1a1a" stroke-width="0.18">−0.54</text>
<rect x="94.30" y="545.90" width="18.95" height="13.20" fill="#78baf9" stroke="rgba(40,40,60,0.45)" stroke-width="0.6"/>
<text x="104.77" y="554.85" font-size="6.7" text-anchor="middle" fill="#1a1a1a"  stroke="#1a1a1a" stroke-width="0.18">−0.20</text>
<rect x="113.25" y="545.90" width="18.95" height="13.20" fill="#a5d2fb" stroke="rgba(40,40,60,0.45)" stroke-width="0.6"/>
<text x="123.72" y="554.85" font-size="6.7" text-anchor="middle" fill="#1a1a1a"  stroke="#1a1a1a" stroke-width="0.18">0.10</text>
<rect x="132.20" y="545.90" width="18.95" height="13.20" fill="#f9979c" stroke="rgba(40,40,60,0.45)" stroke-width="0.6"/>
<text x="142.67" y="554.85" font-size="6.7" text-anchor="middle" fill="#1a1a1a"  stroke="#1a1a1a" stroke-width="0.18">1.19</text>
<text x="154.65" y="556.00" font-size="6.75" text-anchor="start" fill="#1a1a1a"  stroke="#1a1a1a" stroke-width="0.18">Gh_D02G0365</text>
<rect x="56.40" y="545.90" width="94.75" height="13.20" fill="none" stroke="#7a7a7a" stroke-width="0.6"/>
<text x="17.30" y="571.50" font-size="7.85" text-anchor="start" fill="#1a1a1a"  stroke="#1a1a1a" stroke-width="0.18">Anthocyanidin 3-O-glucoside</text>
<defs><linearGradient id="cg" x1="0" y1="0" x2="1" y2="0"><stop offset="0.00" stop-color="#1c8cf5"/><stop offset="0.05" stop-color="#3096f6"/><stop offset="0.10" stop-color="#44a1f7"/><stop offset="0.15" stop-color="#59abf8"/><stop offset="0.20" stop-color="#6eb6f9"/><stop offset="0.25" stop-color="#84c1fa"/><stop offset="0.30" stop-color="#9accfb"/><stop offset="0.35" stop-color="#b0d7fc"/><stop offset="0.40" stop-color="#c8e3fd"/><stop offset="0.45" stop-color="#e1f0fe"/><stop offset="0.50" stop-color="#ffffff"/><stop offset="0.55" stop-color="#fde2e3"/><stop offset="0.60" stop-color="#fcc8cb"/><stop offset="0.65" stop-color="#faafb3"/><stop offset="0.70" stop-color="#f9979c"/><stop offset="0.75" stop-color="#f78086"/><stop offset="0.80" stop-color="#f66870"/><stop offset="0.85" stop-color="#f4515a"/><stop offset="0.90" stop-color="#f33b45"/><stop offset="0.95" stop-color="#f1242f"/><stop offset="1.00" stop-color="#f00e1a"/></linearGradient></defs>
<rect x="150.9" y="566.3" width="38" height="5.3" fill="url(#cg)"/>
<text x="152.30" y="578.20" font-size="4.6" text-anchor="middle" fill="#333"  stroke="#333" stroke-width="0.18">−2</text>
<text x="188.00" y="578.20" font-size="4.6" text-anchor="middle" fill="#333"  stroke="#333" stroke-width="0.18">2</text>
<text x="293.40" y="211.20" font-size="8.7" text-anchor="start" font-weight="bold" fill="#111" stroke="#111" stroke-width="0.05">D</text>
<rect x="330.30" y="214.40" width="23.86" height="10.60" fill="#a4d1fb" stroke="rgba(40,40,60,0.45)" stroke-width="0.6"/>
<text x="344.23" y="222.05" font-size="6.7" text-anchor="middle" fill="#1a1a1a"  stroke="#1a1a1a" stroke-width="0.18">0.00</text>
<rect x="354.16" y="214.40" width="23.86" height="10.60" fill="#f00e1a" stroke="rgba(40,40,60,0.45)" stroke-width="0.6"/>
<text x="368.09" y="222.05" font-size="6.7" text-anchor="middle" fill="#1a1a1a"  stroke="#1a1a1a" stroke-width="0.18">9.49</text>
<rect x="378.02" y="214.40" width="23.86" height="10.60" fill="#b8dbfc" stroke="rgba(40,40,60,0.45)" stroke-width="0.6"/>
<text x="391.95" y="222.05" font-size="6.7" text-anchor="middle" fill="#1a1a1a"  stroke="#1a1a1a" stroke-width="0.18">0.61</text>
<rect x="401.88" y="214.40" width="23.86" height="10.60" fill="#cbe4fd" stroke="rgba(40,40,60,0.45)" stroke-width="0.6"/>
<text x="415.81" y="222.05" font-size="6.7" text-anchor="middle" fill="#1a1a1a"  stroke="#1a1a1a" stroke-width="0.18">1.17</text>
<rect x="425.74" y="214.40" width="23.86" height="10.60" fill="#c7e3fd" stroke="rgba(40,40,60,0.45)" stroke-width="0.6"/>
<text x="439.67" y="222.05" font-size="6.7" text-anchor="middle" fill="#1a1a1a"  stroke="#1a1a1a" stroke-width="0.18">1.06</text>
<text x="452.50" y="222.90" font-size="6.75" text-anchor="start" fill="#1a1a1a"  stroke="#1a1a1a" stroke-width="0.18">Gh_Sca032200G01::Dof</text>
<rect x="330.30" y="225.00" width="23.86" height="10.60" fill="#faabaf" stroke="rgba(40,40,60,0.45)" stroke-width="0.6"/>
<text x="344.23" y="232.65" font-size="6.7" text-anchor="middle" fill="#1a1a1a"  stroke="#1a1a1a" stroke-width="0.18">1.05</text>
<rect x="354.16" y="225.00" width="23.86" height="10.60" fill="#f2333d" stroke="rgba(40,40,60,0.45)" stroke-width="0.6"/>
<text x="368.09" y="232.65" font-size="6.7" text-anchor="middle" fill="#1a1a1a"  stroke="#1a1a1a" stroke-width="0.18">2.00</text>
<rect x="378.02" y="225.00" width="23.86" height="10.60" fill="#83c0fa" stroke="rgba(40,40,60,0.45)" stroke-width="0.6"/>
<text x="391.95" y="232.65" font-size="6.7" text-anchor="middle" fill="#1a1a1a"  stroke="#1a1a1a" stroke-width="0.18">−0.46</text>
<rect x="401.88" y="225.00" width="23.86" height="10.60" fill="#a7d2fb" stroke="rgba(40,40,60,0.45)" stroke-width="0.6"/>
<text x="415.81" y="232.65" font-size="6.7" text-anchor="middle" fill="#1a1a1a"  stroke="#1a1a1a" stroke-width="0.18">−0.16</text>
<rect x="425.74" y="225.00" width="23.86" height="10.60" fill="#abd4fb" stroke="rgba(40,40,60,0.45)" stroke-width="0.6"/>
<text x="439.67" y="232.65" font-size="6.7" text-anchor="middle" fill="#1a1a1a"  stroke="#1a1a1a" stroke-width="0.18">−0.13</text>
<text x="452.50" y="233.50" font-size="6.75" text-anchor="start" fill="#1a1a1a"  stroke="#1a1a1a" stroke-width="0.18">Gh_D09G0147::ZF-HD</text>
<rect x="330.30" y="235.60" width="23.86" height="10.60" fill="#feedee" stroke="rgba(40,40,60,0.45)" stroke-width="0.6"/>
<text x="344.23" y="243.25" font-size="6.7" text-anchor="middle" fill="#1a1a1a"  stroke="#1a1a1a" stroke-width="0.18">0.00</text>
<rect x="354.16" y="235.60" width="23.86" height="10.60" fill="#f66d74" stroke="rgba(40,40,60,0.45)" stroke-width="0.6"/>
<text x="368.09" y="243.25" font-size="6.7" text-anchor="middle" fill="#1a1a1a"  stroke="#1a1a1a" stroke-width="0.18">3.38</text>
<rect x="378.02" y="235.60" width="23.86" height="10.60" fill="#2892f6" stroke="rgba(40,40,60,0.45)" stroke-width="0.6"/>
<text x="391.95" y="243.25" font-size="6.7" text-anchor="middle" fill="#1a1a1a"  stroke="#1a1a1a" stroke-width="0.18">−6.44</text>
<rect x="401.88" y="235.60" width="23.86" height="10.60" fill="#feedee" stroke="rgba(40,40,60,0.45)" stroke-width="0.6"/>
<text x="415.81" y="243.25" font-size="6.7" text-anchor="middle" fill="#1a1a1a"  stroke="#1a1a1a" stroke-width="0.18">0.00</text>
<rect x="425.74" y="235.60" width="23.86" height="10.60" fill="#fbc2c5" stroke="rgba(40,40,60,0.45)" stroke-width="0.6"/>
<text x="439.67" y="243.25" font-size="6.7" text-anchor="middle" fill="#1a1a1a"  stroke="#1a1a1a" stroke-width="0.18">1.07</text>
<text x="452.50" y="244.10" font-size="6.75" text-anchor="start" fill="#1a1a1a"  stroke="#1a1a1a" stroke-width="0.18">Gh_A05G2234::bZIP</text>
<rect x="330.30" y="246.20" width="23.86" height="10.60" fill="#f67178" stroke="rgba(40,40,60,0.45)" stroke-width="0.6"/>
<text x="344.23" y="253.85" font-size="6.7" text-anchor="middle" fill="#1a1a1a"  stroke="#1a1a1a" stroke-width="0.18">6.15</text>
<rect x="354.16" y="246.20" width="23.86" height="10.60" fill="#f89297" stroke="rgba(40,40,60,0.45)" stroke-width="0.6"/>
<text x="368.09" y="253.85" font-size="6.7" text-anchor="middle" fill="#1a1a1a"  stroke="#1a1a1a" stroke-width="0.18">5.09</text>
<rect x="378.02" y="246.20" width="23.86" height="10.60" fill="#3699f6" stroke="rgba(40,40,60,0.45)" stroke-width="0.6"/>
<text x="391.95" y="253.85" font-size="6.7" text-anchor="middle" fill="#1a1a1a"  stroke="#1a1a1a" stroke-width="0.18">−4.91</text>
<rect x="401.88" y="246.20" width="23.86" height="10.60" fill="#d7ebfd" stroke="rgba(40,40,60,0.45)" stroke-width="0.6"/>
<text x="415.81" y="253.85" font-size="6.7" text-anchor="middle" fill="#1a1a1a"  stroke="#1a1a1a" stroke-width="0.18">0.76</text>
<rect x="425.74" y="246.20" width="23.86" height="10.60" fill="#fffdfd" stroke="rgba(40,40,60,0.45)" stroke-width="0.6"/>
<text x="439.67" y="253.85" font-size="6.7" text-anchor="middle" fill="#1a1a1a"  stroke="#1a1a1a" stroke-width="0.18">1.87</text>
<text x="452.50" y="254.70" font-size="6.75" text-anchor="start" fill="#1a1a1a"  stroke="#1a1a1a" stroke-width="0.18">Gh_A11G0366::ERF</text>
<rect x="330.30" y="256.80" width="23.86" height="10.60" fill="#f3444d" stroke="rgba(40,40,60,0.45)" stroke-width="0.6"/>
<text x="344.23" y="264.45" font-size="6.7" text-anchor="middle" fill="#1a1a1a"  stroke="#1a1a1a" stroke-width="0.18">8.17</text>
<rect x="354.16" y="256.80" width="23.86" height="10.60" fill="#f4faff" stroke="rgba(40,40,60,0.45)" stroke-width="0.6"/>
<text x="368.09" y="264.45" font-size="6.7" text-anchor="middle" fill="#1a1a1a"  stroke="#1a1a1a" stroke-width="0.18">0.28</text>
<rect x="378.02" y="256.80" width="23.86" height="10.60" fill="#3e9df7" stroke="rgba(40,40,60,0.45)" stroke-width="0.6"/>
<text x="391.95" y="264.45" font-size="6.7" text-anchor="middle" fill="#1a1a1a"  stroke="#1a1a1a" stroke-width="0.18">−7.67</text>
<rect x="401.88" y="256.80" width="23.86" height="10.60" fill="#fcfeff" stroke="rgba(40,40,60,0.45)" stroke-width="0.6"/>
<text x="415.81" y="264.45" font-size="6.7" text-anchor="middle" fill="#1a1a1a"  stroke="#1a1a1a" stroke-width="0.18">0.53</text>
<rect x="425.74" y="256.80" width="23.86" height="10.60" fill="#fde5e7" stroke="rgba(40,40,60,0.45)" stroke-width="0.6"/>
<text x="439.67" y="264.45" font-size="6.7" text-anchor="middle" fill="#1a1a1a"  stroke="#1a1a1a" stroke-width="0.18">1.47</text>
<text x="452.50" y="265.30" font-size="6.75" text-anchor="start" fill="#1a1a1a"  stroke="#1a1a1a" stroke-width="0.18">Gh_D07G0440::ERF</text>
<rect x="330.30" y="267.40" width="23.86" height="10.60" fill="#fcced0" stroke="rgba(40,40,60,0.45)" stroke-width="0.6"/>
<text x="344.23" y="275.05" font-size="6.7" text-anchor="middle" fill="#1a1a1a"  stroke="#1a1a1a" stroke-width="0.18">0.73</text>
<rect x="354.16" y="267.40" width="23.86" height="10.60" fill="#7ebef9" stroke="rgba(40,40,60,0.45)" stroke-width="0.6"/>
<text x="368.09" y="275.05" font-size="6.7" text-anchor="middle" fill="#1a1a1a"  stroke="#1a1a1a" stroke-width="0.18">−0.18</text>
<rect x="378.02" y="267.40" width="23.86" height="10.60" fill="#f2313c" stroke="rgba(40,40,60,0.45)" stroke-width="0.6"/>
<text x="391.95" y="275.05" font-size="6.7" text-anchor="middle" fill="#1a1a1a"  stroke="#1a1a1a" stroke-width="0.18">1.59</text>
<rect x="401.88" y="267.40" width="23.86" height="10.60" fill="#81bff9" stroke="rgba(40,40,60,0.45)" stroke-width="0.6"/>
<text x="415.81" y="275.05" font-size="6.7" text-anchor="middle" fill="#1a1a1a"  stroke="#1a1a1a" stroke-width="0.18">−0.16</text>
<rect x="425.74" y="267.40" width="23.86" height="10.60" fill="#ffffff" stroke="rgba(40,40,60,0.45)" stroke-width="0.6"/>
<text x="439.67" y="275.05" font-size="6.7" text-anchor="middle" fill="#1a1a1a"  stroke="#1a1a1a" stroke-width="0.18">0.50</text>
<text x="452.50" y="275.90" font-size="6.75" text-anchor="start" fill="#1a1a1a"  stroke="#1a1a1a" stroke-width="0.18">Gh_D01G0152::bHLH</text>
<rect x="330.30" y="278.00" width="23.86" height="10.60" fill="#b1d8fc" stroke="rgba(40,40,60,0.45)" stroke-width="0.6"/>
<text x="344.23" y="285.65" font-size="6.7" text-anchor="middle" fill="#1a1a1a"  stroke="#1a1a1a" stroke-width="0.18">−6.15</text>
<rect x="354.16" y="278.00" width="23.86" height="10.60" fill="#88c3fa" stroke="rgba(40,40,60,0.45)" stroke-width="0.6"/>
<text x="368.09" y="285.65" font-size="6.7" text-anchor="middle" fill="#1a1a1a"  stroke="#1a1a1a" stroke-width="0.18">−9.17</text>
<rect x="378.02" y="278.00" width="23.86" height="10.60" fill="#f4545c" stroke="rgba(40,40,60,0.45)" stroke-width="0.6"/>
<text x="391.95" y="285.65" font-size="6.7" text-anchor="middle" fill="#1a1a1a"  stroke="#1a1a1a" stroke-width="0.18">10.24</text>
<rect x="401.88" y="278.00" width="23.86" height="10.60" fill="#8dc5fa" stroke="rgba(40,40,60,0.45)" stroke-width="0.6"/>
<text x="415.81" y="285.65" font-size="6.7" text-anchor="middle" fill="#1a1a1a"  stroke="#1a1a1a" stroke-width="0.18">−8.83</text>
<rect x="425.74" y="278.00" width="23.86" height="10.60" fill="#f77a81" stroke="rgba(40,40,60,0.45)" stroke-width="0.6"/>
<text x="439.67" y="285.65" font-size="6.7" text-anchor="middle" fill="#1a1a1a"  stroke="#1a1a1a" stroke-width="0.18">7.48</text>
<text x="452.50" y="286.50" font-size="6.75" text-anchor="start" fill="#1a1a1a"  stroke="#1a1a1a" stroke-width="0.18">Gh_Sca064124G01::ERF</text>
<rect x="330.30" y="288.60" width="23.86" height="10.60" fill="#95c9fa" stroke="rgba(40,40,60,0.45)" stroke-width="0.6"/>
<text x="344.23" y="296.25" font-size="6.7" text-anchor="middle" fill="#1a1a1a"  stroke="#1a1a1a" stroke-width="0.18">0.37</text>
<rect x="354.16" y="288.60" width="23.86" height="10.60" fill="#99cbfa" stroke="rgba(40,40,60,0.45)" stroke-width="0.6"/>
<text x="368.09" y="296.25" font-size="6.7" text-anchor="middle" fill="#1a1a1a"  stroke="#1a1a1a" stroke-width="0.18">0.39</text>
<rect x="378.02" y="288.60" width="23.86" height="10.60" fill="#f66e75" stroke="rgba(40,40,60,0.45)" stroke-width="0.6"/>
<text x="391.95" y="296.25" font-size="6.7" text-anchor="middle" fill="#1a1a1a"  stroke="#1a1a1a" stroke-width="0.18">1.53</text>
<rect x="401.88" y="288.60" width="23.86" height="10.60" fill="#95c9fa" stroke="rgba(40,40,60,0.45)" stroke-width="0.6"/>
<text x="415.81" y="296.25" font-size="6.7" text-anchor="middle" fill="#1a1a1a"  stroke="#1a1a1a" stroke-width="0.18">0.37</text>
<rect x="425.74" y="288.60" width="23.86" height="10.60" fill="#f55c64" stroke="rgba(40,40,60,0.45)" stroke-width="0.6"/>
<text x="439.67" y="296.25" font-size="6.7" text-anchor="middle" fill="#1a1a1a"  stroke="#1a1a1a" stroke-width="0.18">1.62</text>
<text x="452.50" y="297.10" font-size="6.75" text-anchor="start" fill="#1a1a1a"  stroke="#1a1a1a" stroke-width="0.18">Gh_D11G2467::NAC</text>
<rect x="330.30" y="299.20" width="23.86" height="10.60" fill="#fcd3d6" stroke="rgba(40,40,60,0.45)" stroke-width="0.6"/>
<text x="344.23" y="306.85" font-size="6.7" text-anchor="middle" fill="#1a1a1a"  stroke="#1a1a1a" stroke-width="0.18">0.06</text>
<rect x="354.16" y="299.20" width="23.86" height="10.60" fill="#60aef8" stroke="rgba(40,40,60,0.45)" stroke-width="0.6"/>
<text x="368.09" y="306.85" font-size="6.7" text-anchor="middle" fill="#1a1a1a"  stroke="#1a1a1a" stroke-width="0.18">−1.19</text>
<rect x="378.02" y="299.20" width="23.86" height="10.60" fill="#fddedf" stroke="rgba(40,40,60,0.45)" stroke-width="0.6"/>
<text x="391.95" y="306.85" font-size="6.7" text-anchor="middle" fill="#1a1a1a"  stroke="#1a1a1a" stroke-width="0.18">0.00</text>
<rect x="401.88" y="299.20" width="23.86" height="10.60" fill="#97cafa" stroke="rgba(40,40,60,0.45)" stroke-width="0.6"/>
<text x="415.81" y="306.85" font-size="6.7" text-anchor="middle" fill="#1a1a1a"  stroke="#1a1a1a" stroke-width="0.18">−0.80</text>
<rect x="425.74" y="299.20" width="23.86" height="10.60" fill="#f33d47" stroke="rgba(40,40,60,0.45)" stroke-width="0.6"/>
<text x="439.67" y="306.85" font-size="6.7" text-anchor="middle" fill="#1a1a1a"  stroke="#1a1a1a" stroke-width="0.18">1.02</text>
<text x="452.50" y="307.70" font-size="6.75" text-anchor="start" fill="#1a1a1a"  stroke="#1a1a1a" stroke-width="0.18">Gh_D05G0276::C3H</text>
<rect x="330.30" y="309.80" width="23.86" height="10.60" fill="#d1e8fd" stroke="rgba(40,40,60,0.45)" stroke-width="0.6"/>
<text x="344.23" y="317.45" font-size="6.7" text-anchor="middle" fill="#1a1a1a"  stroke="#1a1a1a" stroke-width="0.18">0.10</text>
<rect x="354.16" y="309.80" width="23.86" height="10.60" fill="#48a2f7" stroke="rgba(40,40,60,0.45)" stroke-width="0.6"/>
<text x="368.09" y="317.45" font-size="6.7" text-anchor="middle" fill="#1a1a1a"  stroke="#1a1a1a" stroke-width="0.18">−0.63</text>
<rect x="378.02" y="309.80" width="23.86" height="10.60" fill="#f89398" stroke="rgba(40,40,60,0.45)" stroke-width="0.6"/>
<text x="391.95" y="317.45" font-size="6.7" text-anchor="middle" fill="#1a1a1a"  stroke="#1a1a1a" stroke-width="0.18">0.79</text>
<rect x="401.88" y="309.80" width="23.86" height="10.60" fill="#d3e9fd" stroke="rgba(40,40,60,0.45)" stroke-width="0.6"/>
<text x="415.81" y="317.45" font-size="6.7" text-anchor="middle" fill="#1a1a1a"  stroke="#1a1a1a" stroke-width="0.18">0.11</text>
<rect x="425.74" y="309.80" width="23.86" height="10.60" fill="#f55a62" stroke="rgba(40,40,60,0.45)" stroke-width="0.6"/>
<text x="439.67" y="317.45" font-size="6.7" text-anchor="middle" fill="#1a1a1a"  stroke="#1a1a1a" stroke-width="0.18">1.08</text>
<text x="452.50" y="318.30" font-size="6.75" text-anchor="start" fill="#1a1a1a"  stroke="#1a1a1a" stroke-width="0.18">Gh_A09G2314::DBB</text>
<rect x="330.30" y="320.40" width="23.86" height="10.60" fill="#82c0f9" stroke="rgba(40,40,60,0.45)" stroke-width="0.6"/>
<text x="344.23" y="328.05" font-size="6.7" text-anchor="middle" fill="#1a1a1a"  stroke="#1a1a1a" stroke-width="0.18">−6.36</text>
<rect x="354.16" y="320.40" width="23.86" height="10.60" fill="#5aabf8" stroke="rgba(40,40,60,0.45)" stroke-width="0.6"/>
<text x="368.09" y="328.05" font-size="6.7" text-anchor="middle" fill="#1a1a1a"  stroke="#1a1a1a" stroke-width="0.18">−7.93</text>
<rect x="378.02" y="320.40" width="23.86" height="10.60" fill="#f99ba0" stroke="rgba(40,40,60,0.45)" stroke-width="0.6"/>
<text x="391.95" y="328.05" font-size="6.7" text-anchor="middle" fill="#1a1a1a"  stroke="#1a1a1a" stroke-width="0.18">1.06</text>
<rect x="401.88" y="320.40" width="23.86" height="10.60" fill="#f66d74" stroke="rgba(40,40,60,0.45)" stroke-width="0.6"/>
<text x="415.81" y="328.05" font-size="6.7" text-anchor="middle" fill="#1a1a1a"  stroke="#1a1a1a" stroke-width="0.18">2.69</text>
<rect x="425.74" y="320.40" width="23.86" height="10.60" fill="#fbc2c5" stroke="rgba(40,40,60,0.45)" stroke-width="0.6"/>
<text x="439.67" y="328.05" font-size="6.7" text-anchor="middle" fill="#1a1a1a"  stroke="#1a1a1a" stroke-width="0.18">−0.26</text>
<text x="452.50" y="328.90" font-size="6.75" text-anchor="start" fill="#1a1a1a"  stroke="#1a1a1a" stroke-width="0.18">Gh_A03G1288::LBD</text>
<rect x="330.30" y="331.00" width="23.86" height="10.60" fill="#63b0f8" stroke="rgba(40,40,60,0.45)" stroke-width="0.6"/>
<text x="344.23" y="338.65" font-size="6.7" text-anchor="middle" fill="#1a1a1a"  stroke="#1a1a1a" stroke-width="0.18">0.47</text>
<rect x="354.16" y="331.00" width="23.86" height="10.60" fill="#7dbdf9" stroke="rgba(40,40,60,0.45)" stroke-width="0.6"/>
<text x="368.09" y="338.65" font-size="6.7" text-anchor="middle" fill="#1a1a1a"  stroke="#1a1a1a" stroke-width="0.18">0.67</text>
<rect x="378.02" y="331.00" width="23.86" height="10.60" fill="#f9a6aa" stroke="rgba(40,40,60,0.45)" stroke-width="0.6"/>
<text x="391.95" y="338.65" font-size="6.7" text-anchor="middle" fill="#1a1a1a"  stroke="#1a1a1a" stroke-width="0.18">2.06</text>
<rect x="401.88" y="331.00" width="23.86" height="10.60" fill="#f55c64" stroke="rgba(40,40,60,0.45)" stroke-width="0.6"/>
<text x="415.81" y="338.65" font-size="6.7" text-anchor="middle" fill="#1a1a1a"  stroke="#1a1a1a" stroke-width="0.18">2.56</text>
<rect x="425.74" y="331.00" width="23.86" height="10.60" fill="#fccfd2" stroke="rgba(40,40,60,0.45)" stroke-width="0.6"/>
<text x="439.67" y="338.65" font-size="6.7" text-anchor="middle" fill="#1a1a1a"  stroke="#1a1a1a" stroke-width="0.18">1.79</text>
<text x="452.50" y="339.50" font-size="6.75" text-anchor="start" fill="#1a1a1a"  stroke="#1a1a1a" stroke-width="0.18">Gh_A01G1265::MYB</text>
<rect x="330.30" y="341.60" width="23.86" height="10.60" fill="#73b8f9" stroke="rgba(40,40,60,0.45)" stroke-width="0.6"/>
<text x="344.23" y="349.25" font-size="6.7" text-anchor="middle" fill="#1a1a1a"  stroke="#1a1a1a" stroke-width="0.18">0.00</text>
<rect x="354.16" y="341.60" width="23.86" height="10.60" fill="#73b8f9" stroke="rgba(40,40,60,0.45)" stroke-width="0.6"/>
<text x="368.09" y="349.25" font-size="6.7" text-anchor="middle" fill="#1a1a1a"  stroke="#1a1a1a" stroke-width="0.18">0.00</text>
<rect x="378.02" y="341.60" width="23.86" height="10.60" fill="#fbc5c8" stroke="rgba(40,40,60,0.45)" stroke-width="0.6"/>
<text x="391.95" y="349.25" font-size="6.7" text-anchor="middle" fill="#1a1a1a"  stroke="#1a1a1a" stroke-width="0.18">5.29</text>
<rect x="401.88" y="341.60" width="23.86" height="10.60" fill="#fcc8cb" stroke="rgba(40,40,60,0.45)" stroke-width="0.6"/>
<text x="415.81" y="349.25" font-size="6.7" text-anchor="middle" fill="#1a1a1a"  stroke="#1a1a1a" stroke-width="0.18">5.21</text>
<rect x="425.74" y="341.60" width="23.86" height="10.60" fill="#f44c55" stroke="rgba(40,40,60,0.45)" stroke-width="0.6"/>
<text x="439.67" y="349.25" font-size="6.7" text-anchor="middle" fill="#1a1a1a"  stroke="#1a1a1a" stroke-width="0.18">8.71</text>
<text x="452.50" y="350.10" font-size="6.75" text-anchor="start" fill="#1a1a1a"  stroke="#1a1a1a" stroke-width="0.18">Gh_A07G0088::MYB</text>
<rect x="330.30" y="352.20" width="23.86" height="10.60" fill="#b2d8fc" stroke="rgba(40,40,60,0.45)" stroke-width="0.6"/>
<text x="344.23" y="359.85" font-size="6.7" text-anchor="middle" fill="#1a1a1a"  stroke="#1a1a1a" stroke-width="0.18">0.14</text>
<rect x="354.16" y="352.20" width="23.86" height="10.60" fill="#53a8f7" stroke="rgba(40,40,60,0.45)" stroke-width="0.6"/>
<text x="368.09" y="359.85" font-size="6.7" text-anchor="middle" fill="#1a1a1a"  stroke="#1a1a1a" stroke-width="0.18">−0.31</text>
<rect x="378.02" y="352.20" width="23.86" height="10.60" fill="#deeefe" stroke="rgba(40,40,60,0.45)" stroke-width="0.6"/>
<text x="391.95" y="359.85" font-size="6.7" text-anchor="middle" fill="#1a1a1a"  stroke="#1a1a1a" stroke-width="0.18">0.33</text>
<rect x="401.88" y="352.20" width="23.86" height="10.60" fill="#f88c92" stroke="rgba(40,40,60,0.45)" stroke-width="0.6"/>
<text x="415.81" y="359.85" font-size="6.7" text-anchor="middle" fill="#1a1a1a"  stroke="#1a1a1a" stroke-width="0.18">0.91</text>
<rect x="425.74" y="352.20" width="23.86" height="10.60" fill="#f55961" stroke="rgba(40,40,60,0.45)" stroke-width="0.6"/>
<text x="439.67" y="359.85" font-size="6.7" text-anchor="middle" fill="#1a1a1a"  stroke="#1a1a1a" stroke-width="0.18">1.14</text>
<text x="452.50" y="360.70" font-size="6.75" text-anchor="start" fill="#1a1a1a"  stroke="#1a1a1a" stroke-width="0.18">Gh_D12G1561::MYB_related</text>
<rect x="330.30" y="362.80" width="23.86" height="10.60" fill="#f55d65" stroke="rgba(40,40,60,0.45)" stroke-width="0.6"/>
<text x="344.23" y="370.45" font-size="6.7" text-anchor="middle" fill="#1a1a1a"  stroke="#1a1a1a" stroke-width="0.18">6.91</text>
<rect x="354.16" y="362.80" width="23.86" height="10.60" fill="#3498f6" stroke="rgba(40,40,60,0.45)" stroke-width="0.6"/>
<text x="368.09" y="370.45" font-size="6.7" text-anchor="middle" fill="#1a1a1a"  stroke="#1a1a1a" stroke-width="0.18">−8.23</text>
<rect x="378.02" y="362.80" width="23.86" height="10.60" fill="#deeefe" stroke="rgba(40,40,60,0.45)" stroke-width="0.6"/>
<text x="391.95" y="370.45" font-size="6.7" text-anchor="middle" fill="#1a1a1a"  stroke="#1a1a1a" stroke-width="0.18">−0.63</text>
<rect x="401.88" y="362.80" width="23.86" height="10.60" fill="#fbbdc0" stroke="rgba(40,40,60,0.45)" stroke-width="0.6"/>
<text x="415.81" y="370.45" font-size="6.7" text-anchor="middle" fill="#1a1a1a"  stroke="#1a1a1a" stroke-width="0.18">2.92</text>
<rect x="425.74" y="362.80" width="23.86" height="10.60" fill="#fde7e8" stroke="rgba(40,40,60,0.45)" stroke-width="0.6"/>
<text x="439.67" y="370.45" font-size="6.7" text-anchor="middle" fill="#1a1a1a"  stroke="#1a1a1a" stroke-width="0.18">1.31</text>
<text x="452.50" y="371.30" font-size="6.75" text-anchor="start" fill="#1a1a1a"  stroke="#1a1a1a" stroke-width="0.18">Gh_D05G2299::Dof</text>
<rect x="330.30" y="373.40" width="23.86" height="10.60" fill="#b4d9fc" stroke="rgba(40,40,60,0.45)" stroke-width="0.6"/>
<text x="344.23" y="381.05" font-size="6.7" text-anchor="middle" fill="#1a1a1a"  stroke="#1a1a1a" stroke-width="0.18">0.16</text>
<rect x="354.16" y="373.40" width="23.86" height="10.60" fill="#9ccdfb" stroke="rgba(40,40,60,0.45)" stroke-width="0.6"/>
<text x="368.09" y="381.05" font-size="6.7" text-anchor="middle" fill="#1a1a1a"  stroke="#1a1a1a" stroke-width="0.18">0.07</text>
<rect x="378.02" y="373.40" width="23.86" height="10.60" fill="#8cc5fa" stroke="rgba(40,40,60,0.45)" stroke-width="0.6"/>
<text x="391.95" y="381.05" font-size="6.7" text-anchor="middle" fill="#1a1a1a"  stroke="#1a1a1a" stroke-width="0.18">0.01</text>
<rect x="401.88" y="373.40" width="23.86" height="10.60" fill="#fbc1c4" stroke="rgba(40,40,60,0.45)" stroke-width="0.6"/>
<text x="415.81" y="381.05" font-size="6.7" text-anchor="middle" fill="#1a1a1a"  stroke="#1a1a1a" stroke-width="0.18">0.59</text>
<rect x="425.74" y="373.40" width="23.86" height="10.60" fill="#f22833" stroke="rgba(40,40,60,0.45)" stroke-width="0.6"/>
<text x="439.67" y="381.05" font-size="6.7" text-anchor="middle" fill="#1a1a1a"  stroke="#1a1a1a" stroke-width="0.18">1.14</text>
<text x="452.50" y="381.90" font-size="6.75" text-anchor="start" fill="#1a1a1a"  stroke="#1a1a1a" stroke-width="0.18">Gh_D07G2410::C3H</text>
<rect x="330.30" y="384.00" width="23.86" height="10.60" fill="#dcedfd" stroke="rgba(40,40,60,0.45)" stroke-width="0.6"/>
<text x="344.23" y="391.65" font-size="6.7" text-anchor="middle" fill="#1a1a1a"  stroke="#1a1a1a" stroke-width="0.18">0.35</text>
<rect x="354.16" y="384.00" width="23.86" height="10.60" fill="#89c3fa" stroke="rgba(40,40,60,0.45)" stroke-width="0.6"/>
<text x="368.09" y="391.65" font-size="6.7" text-anchor="middle" fill="#1a1a1a"  stroke="#1a1a1a" stroke-width="0.18">−0.67</text>
<rect x="378.02" y="384.00" width="23.86" height="10.60" fill="#83c0fa" stroke="rgba(40,40,60,0.45)" stroke-width="0.6"/>
<text x="391.95" y="391.65" font-size="6.7" text-anchor="middle" fill="#1a1a1a"  stroke="#1a1a1a" stroke-width="0.18">−0.75</text>
<rect x="401.88" y="384.00" width="23.86" height="10.60" fill="#fbc1c4" stroke="rgba(40,40,60,0.45)" stroke-width="0.6"/>
<text x="415.81" y="391.65" font-size="6.7" text-anchor="middle" fill="#1a1a1a"  stroke="#1a1a1a" stroke-width="0.18">1.36</text>
<rect x="425.74" y="384.00" width="23.86" height="10.60" fill="#f22f39" stroke="rgba(40,40,60,0.45)" stroke-width="0.6"/>
<text x="439.67" y="391.65" font-size="6.7" text-anchor="middle" fill="#1a1a1a"  stroke="#1a1a1a" stroke-width="0.18">3.15</text>
<text x="452.50" y="392.50" font-size="6.75" text-anchor="start" fill="#1a1a1a"  stroke="#1a1a1a" stroke-width="0.18">Gh_D03G0292::HD-ZIP</text>
<rect x="330.30" y="394.60" width="23.86" height="10.60" fill="#f3f9fe" stroke="rgba(40,40,60,0.45)" stroke-width="0.6"/>
<text x="344.23" y="402.25" font-size="6.7" text-anchor="middle" fill="#1a1a1a"  stroke="#1a1a1a" stroke-width="0.18">0.14</text>
<rect x="354.16" y="394.60" width="23.86" height="10.60" fill="#62b0f8" stroke="rgba(40,40,60,0.45)" stroke-width="0.6"/>
<text x="368.09" y="402.25" font-size="6.7" text-anchor="middle" fill="#1a1a1a"  stroke="#1a1a1a" stroke-width="0.18">−0.55</text>
<rect x="378.02" y="394.60" width="23.86" height="10.60" fill="#b5dafc" stroke="rgba(40,40,60,0.45)" stroke-width="0.6"/>
<text x="391.95" y="402.25" font-size="6.7" text-anchor="middle" fill="#1a1a1a"  stroke="#1a1a1a" stroke-width="0.18">−0.13</text>
<rect x="401.88" y="394.60" width="23.86" height="10.60" fill="#fee7e8" stroke="rgba(40,40,60,0.45)" stroke-width="0.6"/>
<text x="415.81" y="402.25" font-size="6.7" text-anchor="middle" fill="#1a1a1a"  stroke="#1a1a1a" stroke-width="0.18">0.27</text>
<rect x="425.74" y="394.60" width="23.86" height="10.60" fill="#f22b35" stroke="rgba(40,40,60,0.45)" stroke-width="0.6"/>
<text x="439.67" y="402.25" font-size="6.7" text-anchor="middle" fill="#1a1a1a"  stroke="#1a1a1a" stroke-width="0.18">1.15</text>
<text x="452.50" y="403.10" font-size="6.75" text-anchor="start" fill="#1a1a1a"  stroke="#1a1a1a" stroke-width="0.18">Gh_A11G0929::B3</text>
<rect x="330.30" y="405.20" width="23.86" height="10.60" fill="#b3d9fc" stroke="rgba(40,40,60,0.45)" stroke-width="0.6"/>
<text x="344.23" y="412.85" font-size="6.7" text-anchor="middle" fill="#1a1a1a"  stroke="#1a1a1a" stroke-width="0.18">−0.02</text>
<rect x="354.16" y="405.20" width="23.86" height="10.60" fill="#81bff9" stroke="rgba(40,40,60,0.45)" stroke-width="0.6"/>
<text x="368.09" y="412.85" font-size="6.7" text-anchor="middle" fill="#1a1a1a"  stroke="#1a1a1a" stroke-width="0.18">−0.47</text>
<rect x="378.02" y="405.20" width="23.86" height="10.60" fill="#c9e3fd" stroke="rgba(40,40,60,0.45)" stroke-width="0.6"/>
<text x="391.95" y="412.85" font-size="6.7" text-anchor="middle" fill="#1a1a1a"  stroke="#1a1a1a" stroke-width="0.18">0.16</text>
<rect x="401.88" y="405.20" width="23.86" height="10.60" fill="#fef3f4" stroke="rgba(40,40,60,0.45)" stroke-width="0.6"/>
<text x="415.81" y="412.85" font-size="6.7" text-anchor="middle" fill="#1a1a1a"  stroke="#1a1a1a" stroke-width="0.18">0.63</text>
<rect x="425.74" y="405.20" width="23.86" height="10.60" fill="#f11b26" stroke="rgba(40,40,60,0.45)" stroke-width="0.6"/>
<text x="439.67" y="412.85" font-size="6.7" text-anchor="middle" fill="#1a1a1a"  stroke="#1a1a1a" stroke-width="0.18">2.43</text>
<text x="452.50" y="413.70" font-size="6.75" text-anchor="start" fill="#1a1a1a"  stroke="#1a1a1a" stroke-width="0.18">Gh_A06G0972::bZIP</text>
<rect x="330.30" y="415.80" width="23.86" height="10.60" fill="#e2f0fe" stroke="rgba(40,40,60,0.45)" stroke-width="0.6"/>
<text x="344.23" y="423.45" font-size="6.7" text-anchor="middle" fill="#1a1a1a"  stroke="#1a1a1a" stroke-width="0.18">−0.16</text>
<rect x="354.16" y="415.80" width="23.86" height="10.60" fill="#cee6fd" stroke="rgba(40,40,60,0.45)" stroke-width="0.6"/>
<text x="368.09" y="423.45" font-size="6.7" text-anchor="middle" fill="#1a1a1a"  stroke="#1a1a1a" stroke-width="0.18">−0.42</text>
<rect x="378.02" y="415.80" width="23.86" height="10.60" fill="#419ff7" stroke="rgba(40,40,60,0.45)" stroke-width="0.6"/>
<text x="391.95" y="423.45" font-size="6.7" text-anchor="middle" fill="#1a1a1a"  stroke="#1a1a1a" stroke-width="0.18">−2.58</text>
<rect x="401.88" y="415.80" width="23.86" height="10.60" fill="#f77f85" stroke="rgba(40,40,60,0.45)" stroke-width="0.6"/>
<text x="415.81" y="423.45" font-size="6.7" text-anchor="middle" fill="#1a1a1a"  stroke="#1a1a1a" stroke-width="0.18">1.86</text>
<rect x="425.74" y="415.80" width="23.86" height="10.60" fill="#f67178" stroke="rgba(40,40,60,0.45)" stroke-width="0.6"/>
<text x="439.67" y="423.45" font-size="6.7" text-anchor="middle" fill="#1a1a1a"  stroke="#1a1a1a" stroke-width="0.18">2.06</text>
<text x="452.50" y="424.30" font-size="6.75" text-anchor="start" fill="#1a1a1a"  stroke="#1a1a1a" stroke-width="0.18">Gh_D11G1879::HD-ZIP</text>
<rect x="330.30" y="426.40" width="23.86" height="10.60" fill="#fef6f6" stroke="rgba(40,40,60,0.45)" stroke-width="0.6"/>
<text x="344.23" y="434.05" font-size="6.7" text-anchor="middle" fill="#1a1a1a"  stroke="#1a1a1a" stroke-width="0.18">0.00</text>
<rect x="354.16" y="426.40" width="23.86" height="10.60" fill="#4ca4f7" stroke="rgba(40,40,60,0.45)" stroke-width="0.6"/>
<text x="368.09" y="434.05" font-size="6.7" text-anchor="middle" fill="#1a1a1a"  stroke="#1a1a1a" stroke-width="0.18">−2.45</text>
<rect x="378.02" y="426.40" width="23.86" height="10.60" fill="#acd5fb" stroke="rgba(40,40,60,0.45)" stroke-width="0.6"/>
<text x="391.95" y="434.05" font-size="6.7" text-anchor="middle" fill="#1a1a1a"  stroke="#1a1a1a" stroke-width="0.18">−1.07</text>
<rect x="401.88" y="426.40" width="23.86" height="10.60" fill="#f4545d" stroke="rgba(40,40,60,0.45)" stroke-width="0.6"/>
<text x="415.81" y="434.05" font-size="6.7" text-anchor="middle" fill="#1a1a1a"  stroke="#1a1a1a" stroke-width="0.18">2.03</text>
<rect x="425.74" y="426.40" width="23.86" height="10.60" fill="#f9a4a9" stroke="rgba(40,40,60,0.45)" stroke-width="0.6"/>
<text x="439.67" y="434.05" font-size="6.7" text-anchor="middle" fill="#1a1a1a"  stroke="#1a1a1a" stroke-width="0.18">0.98</text>
<text x="452.50" y="434.90" font-size="6.75" text-anchor="start" fill="#1a1a1a"  stroke="#1a1a1a" stroke-width="0.18">Gh_A11G2165::NAC</text>
<rect x="330.30" y="437.00" width="23.86" height="10.60" fill="#4ea5f7" stroke="rgba(40,40,60,0.45)" stroke-width="0.6"/>
<text x="344.23" y="444.65" font-size="6.7" text-anchor="middle" fill="#1a1a1a"  stroke="#1a1a1a" stroke-width="0.18">−1.50</text>
<rect x="354.16" y="437.00" width="23.86" height="10.60" fill="#f3f9fe" stroke="rgba(40,40,60,0.45)" stroke-width="0.6"/>
<text x="368.09" y="444.65" font-size="6.7" text-anchor="middle" fill="#1a1a1a"  stroke="#1a1a1a" stroke-width="0.18">0.41</text>
<rect x="378.02" y="437.00" width="23.86" height="10.60" fill="#afd7fb" stroke="rgba(40,40,60,0.45)" stroke-width="0.6"/>
<text x="391.95" y="444.65" font-size="6.7" text-anchor="middle" fill="#1a1a1a"  stroke="#1a1a1a" stroke-width="0.18">−0.31</text>
<rect x="401.88" y="437.00" width="23.86" height="10.60" fill="#f55760" stroke="rgba(40,40,60,0.45)" stroke-width="0.6"/>
<text x="415.81" y="444.65" font-size="6.7" text-anchor="middle" fill="#1a1a1a"  stroke="#1a1a1a" stroke-width="0.18">2.29</text>
<rect x="425.74" y="437.00" width="23.86" height="10.60" fill="#f9979d" stroke="rgba(40,40,60,0.45)" stroke-width="0.6"/>
<text x="439.67" y="444.65" font-size="6.7" text-anchor="middle" fill="#1a1a1a"  stroke="#1a1a1a" stroke-width="0.18">1.56</text>
<text x="452.50" y="445.50" font-size="6.75" text-anchor="start" fill="#1a1a1a"  stroke="#1a1a1a" stroke-width="0.18">Gh_D06G2261::LSD</text>
<rect x="330.30" y="447.60" width="23.86" height="10.60" fill="#3c9cf6" stroke="rgba(40,40,60,0.45)" stroke-width="0.6"/>
<text x="344.23" y="455.25" font-size="6.7" text-anchor="middle" fill="#1a1a1a"  stroke="#1a1a1a" stroke-width="0.18">−1.64</text>
<rect x="354.16" y="447.60" width="23.86" height="10.60" fill="#f89398" stroke="rgba(40,40,60,0.45)" stroke-width="0.6"/>
<text x="368.09" y="455.25" font-size="6.7" text-anchor="middle" fill="#1a1a1a"  stroke="#1a1a1a" stroke-width="0.18">0.79</text>
<rect x="378.02" y="447.60" width="23.86" height="10.60" fill="#eef6fe" stroke="rgba(40,40,60,0.45)" stroke-width="0.6"/>
<text x="391.95" y="455.25" font-size="6.7" text-anchor="middle" fill="#1a1a1a"  stroke="#1a1a1a" stroke-width="0.18">−0.12</text>
<rect x="401.88" y="447.60" width="23.86" height="10.60" fill="#f5666e" stroke="rgba(40,40,60,0.45)" stroke-width="0.6"/>
<text x="415.81" y="455.25" font-size="6.7" text-anchor="middle" fill="#1a1a1a"  stroke="#1a1a1a" stroke-width="0.18">1.16</text>
<rect x="425.74" y="447.60" width="23.86" height="10.60" fill="#d4e9fd" stroke="rgba(40,40,60,0.45)" stroke-width="0.6"/>
<text x="439.67" y="455.25" font-size="6.7" text-anchor="middle" fill="#1a1a1a"  stroke="#1a1a1a" stroke-width="0.18">−0.31</text>
<text x="452.50" y="456.10" font-size="6.75" text-anchor="start" fill="#1a1a1a"  stroke="#1a1a1a" stroke-width="0.18">Gh_A09G2380::MYB</text>
<rect x="330.30" y="458.20" width="23.86" height="10.60" fill="#429ff7" stroke="rgba(40,40,60,0.45)" stroke-width="0.6"/>
<text x="344.23" y="465.85" font-size="6.7" text-anchor="middle" fill="#1a1a1a"  stroke="#1a1a1a" stroke-width="0.18">−6.71</text>
<rect x="354.16" y="458.20" width="23.86" height="10.60" fill="#c2e0fc" stroke="rgba(40,40,60,0.45)" stroke-width="0.6"/>
<text x="368.09" y="465.85" font-size="6.7" text-anchor="middle" fill="#1a1a1a"  stroke="#1a1a1a" stroke-width="0.18">0.00</text>
<rect x="378.02" y="458.20" width="23.86" height="10.60" fill="#f8969b" stroke="rgba(40,40,60,0.45)" stroke-width="0.6"/>
<text x="391.95" y="465.85" font-size="6.7" text-anchor="middle" fill="#1a1a1a"  stroke="#1a1a1a" stroke-width="0.18">7.15</text>
<rect x="401.88" y="458.20" width="23.86" height="10.60" fill="#f7fbff" stroke="rgba(40,40,60,0.45)" stroke-width="0.6"/>
<text x="415.81" y="465.85" font-size="6.7" text-anchor="middle" fill="#1a1a1a"  stroke="#1a1a1a" stroke-width="0.18">2.27</text>
<rect x="425.74" y="458.20" width="23.86" height="10.60" fill="#f56068" stroke="rgba(40,40,60,0.45)" stroke-width="0.6"/>
<text x="439.67" y="465.85" font-size="6.7" text-anchor="middle" fill="#1a1a1a"  stroke="#1a1a1a" stroke-width="0.18">9.76</text>
<text x="452.50" y="466.70" font-size="6.75" text-anchor="start" fill="#1a1a1a"  stroke="#1a1a1a" stroke-width="0.18">Gh_D12G1825::bZIP</text>
<rect x="330.30" y="468.80" width="23.86" height="10.60" fill="#3197f6" stroke="rgba(40,40,60,0.45)" stroke-width="0.6"/>
<text x="344.23" y="476.45" font-size="6.7" text-anchor="middle" fill="#1a1a1a"  stroke="#1a1a1a" stroke-width="0.18">−8.30</text>
<rect x="354.16" y="468.80" width="23.86" height="10.60" fill="#d3e8fd" stroke="rgba(40,40,60,0.45)" stroke-width="0.6"/>
<text x="368.09" y="476.45" font-size="6.7" text-anchor="middle" fill="#1a1a1a"  stroke="#1a1a1a" stroke-width="0.18">−2.15</text>
<rect x="378.02" y="468.80" width="23.86" height="10.60" fill="#f7868c" stroke="rgba(40,40,60,0.45)" stroke-width="0.6"/>
<text x="391.95" y="476.45" font-size="6.7" text-anchor="middle" fill="#1a1a1a"  stroke="#1a1a1a" stroke-width="0.18">3.11</text>
<rect x="401.88" y="468.80" width="23.86" height="10.60" fill="#fde4e5" stroke="rgba(40,40,60,0.45)" stroke-width="0.6"/>
<text x="415.81" y="476.45" font-size="6.7" text-anchor="middle" fill="#1a1a1a"  stroke="#1a1a1a" stroke-width="0.18">−0.07</text>
<rect x="425.74" y="468.80" width="23.86" height="10.60" fill="#f8888e" stroke="rgba(40,40,60,0.45)" stroke-width="0.6"/>
<text x="439.67" y="476.45" font-size="6.7" text-anchor="middle" fill="#1a1a1a"  stroke="#1a1a1a" stroke-width="0.18">3.04</text>
<text x="452.50" y="477.30" font-size="6.75" text-anchor="start" fill="#1a1a1a"  stroke="#1a1a1a" stroke-width="0.18">Gh_D13G1915::M-type_MADS</text>
<rect x="330.30" y="479.40" width="23.86" height="10.60" fill="#1c8cf5" stroke="rgba(40,40,60,0.45)" stroke-width="0.6"/>
<text x="344.23" y="487.05" font-size="6.7" text-anchor="middle" fill="#1a1a1a"  stroke="#1a1a1a" stroke-width="0.18">−8.01</text>
<rect x="354.16" y="479.40" width="23.86" height="10.60" fill="#fccccf" stroke="rgba(40,40,60,0.45)" stroke-width="0.6"/>
<text x="368.09" y="487.05" font-size="6.7" text-anchor="middle" fill="#1a1a1a"  stroke="#1a1a1a" stroke-width="0.18">0.03</text>
<rect x="378.02" y="479.40" width="23.86" height="10.60" fill="#fab2b6" stroke="rgba(40,40,60,0.45)" stroke-width="0.6"/>
<text x="391.95" y="487.05" font-size="6.7" text-anchor="middle" fill="#1a1a1a"  stroke="#1a1a1a" stroke-width="0.18">0.76</text>
<rect x="401.88" y="479.40" width="23.86" height="10.60" fill="#fddadc" stroke="rgba(40,40,60,0.45)" stroke-width="0.6"/>
<text x="415.81" y="487.05" font-size="6.7" text-anchor="middle" fill="#1a1a1a"  stroke="#1a1a1a" stroke-width="0.18">−0.32</text>
<rect x="425.74" y="479.40" width="23.86" height="10.60" fill="#f99da2" stroke="rgba(40,40,60,0.45)" stroke-width="0.6"/>
<text x="439.67" y="487.05" font-size="6.7" text-anchor="middle" fill="#1a1a1a"  stroke="#1a1a1a" stroke-width="0.18">1.34</text>
<text x="452.50" y="487.90" font-size="6.75" text-anchor="start" fill="#1a1a1a"  stroke="#1a1a1a" stroke-width="0.18">Gh_A13G1269::bZIP</text>
<rect x="330.30" y="490.00" width="23.86" height="10.60" fill="#2390f5" stroke="rgba(40,40,60,0.45)" stroke-width="0.6"/>
<text x="344.23" y="497.65" font-size="6.7" text-anchor="middle" fill="#1a1a1a"  stroke="#1a1a1a" stroke-width="0.18">1.69</text>
<rect x="354.16" y="490.00" width="23.86" height="10.60" fill="#ffffff" stroke="rgba(40,40,60,0.45)" stroke-width="0.6"/>
<text x="368.09" y="497.65" font-size="6.7" text-anchor="middle" fill="#1a1a1a"  stroke="#1a1a1a" stroke-width="0.18">3.59</text>
<rect x="378.02" y="490.00" width="23.86" height="10.60" fill="#fddadb" stroke="rgba(40,40,60,0.45)" stroke-width="0.6"/>
<text x="391.95" y="497.65" font-size="6.7" text-anchor="middle" fill="#1a1a1a"  stroke="#1a1a1a" stroke-width="0.18">3.85</text>
<rect x="401.88" y="490.00" width="23.86" height="10.60" fill="#f99ca1" stroke="rgba(40,40,60,0.45)" stroke-width="0.6"/>
<text x="415.81" y="497.65" font-size="6.7" text-anchor="middle" fill="#1a1a1a"  stroke="#1a1a1a" stroke-width="0.18">4.34</text>
<rect x="425.74" y="490.00" width="23.86" height="10.60" fill="#f89095" stroke="rgba(40,40,60,0.45)" stroke-width="0.6"/>
<text x="439.67" y="497.65" font-size="6.7" text-anchor="middle" fill="#1a1a1a"  stroke="#1a1a1a" stroke-width="0.18">4.44</text>
<text x="452.50" y="498.50" font-size="6.75" text-anchor="start" fill="#1a1a1a"  stroke="#1a1a1a" stroke-width="0.18">Gh_A07G2341::MYB</text>
<rect x="330.30" y="500.60" width="23.86" height="10.60" fill="#61aff8" stroke="rgba(40,40,60,0.45)" stroke-width="0.6"/>
<text x="344.23" y="508.25" font-size="6.7" text-anchor="middle" fill="#1a1a1a"  stroke="#1a1a1a" stroke-width="0.18">−1.18</text>
<rect x="354.16" y="500.60" width="23.86" height="10.60" fill="#cae4fd" stroke="rgba(40,40,60,0.45)" stroke-width="0.6"/>
<text x="368.09" y="508.25" font-size="6.7" text-anchor="middle" fill="#1a1a1a"  stroke="#1a1a1a" stroke-width="0.18">−0.17</text>
<rect x="378.02" y="500.60" width="23.86" height="10.60" fill="#fbbec1" stroke="rgba(40,40,60,0.45)" stroke-width="0.6"/>
<text x="391.95" y="508.25" font-size="6.7" text-anchor="middle" fill="#1a1a1a"  stroke="#1a1a1a" stroke-width="0.18">0.76</text>
<rect x="401.88" y="500.60" width="23.86" height="10.60" fill="#c1dffc" stroke="rgba(40,40,60,0.45)" stroke-width="0.6"/>
<text x="415.81" y="508.25" font-size="6.7" text-anchor="middle" fill="#1a1a1a"  stroke="#1a1a1a" stroke-width="0.18">−0.25</text>
<rect x="425.74" y="500.60" width="23.86" height="10.60" fill="#f2343e" stroke="rgba(40,40,60,0.45)" stroke-width="0.6"/>
<text x="439.67" y="508.25" font-size="6.7" text-anchor="middle" fill="#1a1a1a"  stroke="#1a1a1a" stroke-width="0.18">2.02</text>
<text x="452.50" y="509.10" font-size="6.75" text-anchor="start" fill="#1a1a1a"  stroke="#1a1a1a" stroke-width="0.18">Gh_D05G2044::GRF</text>
<rect x="330.30" y="511.20" width="23.86" height="10.60" fill="#5dadf8" stroke="rgba(40,40,60,0.45)" stroke-width="0.6"/>
<text x="344.23" y="518.85" font-size="6.7" text-anchor="middle" fill="#1a1a1a"  stroke="#1a1a1a" stroke-width="0.18">−1.06</text>
<rect x="354.16" y="511.20" width="23.86" height="10.60" fill="#e3f1fe" stroke="rgba(40,40,60,0.45)" stroke-width="0.6"/>
<text x="368.09" y="518.85" font-size="6.7" text-anchor="middle" fill="#1a1a1a"  stroke="#1a1a1a" stroke-width="0.18">0.36</text>
<rect x="378.02" y="511.20" width="23.86" height="10.60" fill="#faafb3" stroke="rgba(40,40,60,0.45)" stroke-width="0.6"/>
<text x="391.95" y="518.85" font-size="6.7" text-anchor="middle" fill="#1a1a1a"  stroke="#1a1a1a" stroke-width="0.18">1.32</text>
<rect x="401.88" y="511.20" width="23.86" height="10.60" fill="#aad4fb" stroke="rgba(40,40,60,0.45)" stroke-width="0.6"/>
<text x="415.81" y="518.85" font-size="6.7" text-anchor="middle" fill="#1a1a1a"  stroke="#1a1a1a" stroke-width="0.18">−0.20</text>
<rect x="425.74" y="511.20" width="23.86" height="10.60" fill="#f33f49" stroke="rgba(40,40,60,0.45)" stroke-width="0.6"/>
<text x="439.67" y="518.85" font-size="6.7" text-anchor="middle" fill="#1a1a1a"  stroke="#1a1a1a" stroke-width="0.18">2.48</text>
<text x="452.50" y="519.70" font-size="6.75" text-anchor="start" fill="#1a1a1a"  stroke="#1a1a1a" stroke-width="0.18">Gh_A02G1702::Nin-like</text>
<rect x="330.30" y="521.80" width="23.86" height="10.60" fill="#99cbfa" stroke="rgba(40,40,60,0.45)" stroke-width="0.6"/>
<text x="344.23" y="529.45" font-size="6.7" text-anchor="middle" fill="#1a1a1a"  stroke="#1a1a1a" stroke-width="0.18">−0.60</text>
<rect x="354.16" y="521.80" width="23.86" height="10.60" fill="#fddfe1" stroke="rgba(40,40,60,0.45)" stroke-width="0.6"/>
<text x="368.09" y="529.45" font-size="6.7" text-anchor="middle" fill="#1a1a1a"  stroke="#1a1a1a" stroke-width="0.18">0.45</text>
<rect x="378.02" y="521.80" width="23.86" height="10.60" fill="#add5fb" stroke="rgba(40,40,60,0.45)" stroke-width="0.6"/>
<text x="391.95" y="529.45" font-size="6.7" text-anchor="middle" fill="#1a1a1a"  stroke="#1a1a1a" stroke-width="0.18">−0.42</text>
<rect x="401.88" y="521.80" width="23.86" height="10.60" fill="#a6d2fb" stroke="rgba(40,40,60,0.45)" stroke-width="0.6"/>
<text x="415.81" y="529.45" font-size="6.7" text-anchor="middle" fill="#1a1a1a"  stroke="#1a1a1a" stroke-width="0.18">−0.48</text>
<rect x="425.74" y="521.80" width="23.86" height="10.60" fill="#f11c27" stroke="rgba(40,40,60,0.45)" stroke-width="0.6"/>
<text x="439.67" y="529.45" font-size="6.7" text-anchor="middle" fill="#1a1a1a"  stroke="#1a1a1a" stroke-width="0.18">2.14</text>
<text x="452.50" y="530.30" font-size="6.75" text-anchor="start" fill="#1a1a1a"  stroke="#1a1a1a" stroke-width="0.18">Gh_A03G0571::HD-ZIP</text>
<rect x="330.30" y="532.40" width="23.86" height="10.60" fill="#78baf9" stroke="rgba(40,40,60,0.45)" stroke-width="0.6"/>
<text x="344.23" y="540.05" font-size="6.7" text-anchor="middle" fill="#1a1a1a"  stroke="#1a1a1a" stroke-width="0.18">−1.17</text>
<rect x="354.16" y="532.40" width="23.86" height="10.60" fill="#b7dafc" stroke="rgba(40,40,60,0.45)" stroke-width="0.6"/>
<text x="368.09" y="540.05" font-size="6.7" text-anchor="middle" fill="#1a1a1a"  stroke="#1a1a1a" stroke-width="0.18">−0.22</text>
<rect x="378.02" y="532.40" width="23.86" height="10.60" fill="#cde6fd" stroke="rgba(40,40,60,0.45)" stroke-width="0.6"/>
<text x="391.95" y="540.05" font-size="6.7" text-anchor="middle" fill="#1a1a1a"  stroke="#1a1a1a" stroke-width="0.18">0.09</text>
<rect x="401.88" y="532.40" width="23.86" height="10.60" fill="#feeced" stroke="rgba(40,40,60,0.45)" stroke-width="0.6"/>
<text x="415.81" y="540.05" font-size="6.7" text-anchor="middle" fill="#1a1a1a"  stroke="#1a1a1a" stroke-width="0.18">0.90</text>
<rect x="425.74" y="532.40" width="23.86" height="10.60" fill="#f11e2a" stroke="rgba(40,40,60,0.45)" stroke-width="0.6"/>
<text x="439.67" y="540.05" font-size="6.7" text-anchor="middle" fill="#1a1a1a"  stroke="#1a1a1a" stroke-width="0.18">3.80</text>
<text x="452.50" y="540.90" font-size="6.75" text-anchor="start" fill="#1a1a1a"  stroke="#1a1a1a" stroke-width="0.18">Gh_D13G1712::MYB</text>
<rect x="330.30" y="543.00" width="23.86" height="10.60" fill="#90c7fa" stroke="rgba(40,40,60,0.45)" stroke-width="0.6"/>
<text x="344.23" y="550.65" font-size="6.7" text-anchor="middle" fill="#1a1a1a"  stroke="#1a1a1a" stroke-width="0.18">−0.55</text>
<rect x="354.16" y="543.00" width="23.86" height="10.60" fill="#abd4fb" stroke="rgba(40,40,60,0.45)" stroke-width="0.6"/>
<text x="368.09" y="550.65" font-size="6.7" text-anchor="middle" fill="#1a1a1a"  stroke="#1a1a1a" stroke-width="0.18">−0.32</text>
<rect x="378.02" y="543.00" width="23.86" height="10.60" fill="#eef7fe" stroke="rgba(40,40,60,0.45)" stroke-width="0.6"/>
<text x="391.95" y="550.65" font-size="6.7" text-anchor="middle" fill="#1a1a1a"  stroke="#1a1a1a" stroke-width="0.18">0.20</text>
<rect x="401.88" y="543.00" width="23.86" height="10.60" fill="#cfe7fd" stroke="rgba(40,40,60,0.45)" stroke-width="0.6"/>
<text x="415.81" y="550.65" font-size="6.7" text-anchor="middle" fill="#1a1a1a"  stroke="#1a1a1a" stroke-width="0.18">−0.03</text>
<rect x="425.74" y="543.00" width="23.86" height="10.60" fill="#f01420" stroke="rgba(40,40,60,0.45)" stroke-width="0.6"/>
<text x="439.67" y="550.65" font-size="6.7" text-anchor="middle" fill="#1a1a1a"  stroke="#1a1a1a" stroke-width="0.18">2.16</text>
<text x="452.50" y="551.50" font-size="6.75" text-anchor="start" fill="#1a1a1a"  stroke="#1a1a1a" stroke-width="0.18">Gh_D11G0333::TCP</text>
<rect x="330.3" y="214.4" width="119.30" height="339.20" fill="none" stroke="#7a7a7a" stroke-width="0.6"/>
<path d="M310.5,219.5L310.5,230.5 M310.5,219.5L330.3,219.5 M310.5,230.5L330.3,230.5 M314.5,251.5L314.5,262.5 M314.5,251.5L330.3,251.5 M314.5,262.5L330.3,262.5 M310.5,240.5L310.5,256.5 M310.5,240.5L330.3,240.5 M310.5,256.5L314.5,256.5 M307.5,224.5L307.5,248.5 M307.5,224.5L310.5,224.5 M307.5,248.5L310.5,248.5 M317.5,283.5L317.5,293.5 M317.5,283.5L330.3,283.5 M317.5,293.5L330.3,293.5 M317.5,304.5L317.5,315.5 M317.5,304.5L330.3,304.5 M317.5,315.5L330.3,315.5 M314.5,288.5L314.5,309.5 M314.5,288.5L317.5,288.5 M314.5,309.5L317.5,309.5 M310.5,272.5L310.5,299.5 M310.5,272.5L330.3,272.5 M310.5,299.5L314.5,299.5 M320.5,325.5L320.5,336.5 M320.5,325.5L330.3,325.5 M320.5,336.5L330.3,336.5 M320.5,346.5L320.5,357.5 M320.5,346.5L330.3,346.5 M320.5,357.5L330.3,357.5 M317.5,330.5L317.5,352.5 M317.5,330.5L320.5,330.5 M317.5,352.5L320.5,352.5 M326.5,378.5L326.5,389.5 M326.5,378.5L330.3,378.5 M326.5,389.5L330.3,389.5 M326.5,399.5L326.5,410.5 M326.5,399.5L330.3,399.5 M326.5,410.5L330.3,410.5 M323.5,384.5L323.5,405.5 M323.5,384.5L326.5,384.5 M323.5,405.5L326.5,405.5 M323.5,421.5L323.5,431.5 M323.5,421.5L330.3,421.5 M323.5,431.5L330.3,431.5 M320.5,394.5L320.5,426.5 M320.5,394.5L323.5,394.5 M320.5,426.5L323.5,426.5 M317.5,368.5L317.5,410.5 M317.5,368.5L330.3,368.5 M317.5,410.5L320.5,410.5 M314.5,341.5L314.5,389.5 M314.5,341.5L317.5,341.5 M314.5,389.5L317.5,389.5 M317.5,442.5L317.5,452.5 M317.5,442.5L330.3,442.5 M317.5,452.5L330.3,452.5 M323.5,463.5L323.5,474.5 M323.5,463.5L330.3,463.5 M323.5,474.5L330.3,474.5 M323.5,484.5L323.5,495.5 M323.5,484.5L330.3,484.5 M323.5,495.5L330.3,495.5 M320.5,468.5L320.5,490.5 M320.5,468.5L323.5,468.5 M320.5,490.5L323.5,490.5 M323.5,505.5L323.5,516.5 M323.5,505.5L330.3,505.5 M323.5,516.5L330.3,516.5 M326.5,537.5L326.5,548.5 M326.5,537.5L330.3,537.5 M326.5,548.5L330.3,548.5 M323.5,527.5L323.5,542.5 M323.5,527.5L330.3,527.5 M323.5,542.5L326.5,542.5 M320.5,511.5L320.5,535.5 M320.5,511.5L323.5,511.5 M320.5,535.5L323.5,535.5 M317.5,479.5L317.5,523.5 M317.5,479.5L320.5,479.5 M317.5,523.5L320.5,523.5 M314.5,447.5L314.5,501.5 M314.5,447.5L317.5,447.5 M314.5,501.5L317.5,501.5 M310.5,365.5L310.5,474.5 M310.5,365.5L314.5,365.5 M310.5,474.5L314.5,474.5 M307.5,285.5L307.5,419.5 M307.5,285.5L310.5,285.5 M307.5,419.5L310.5,419.5 M304.5,232.5L304.5,348.5 M304.5,232.5L307.5,232.5 M304.5,348.5L307.5,348.5" stroke="#c2c2c2" stroke-width="1" fill="none" shape-rendering="crispEdges"/>
<text x="346.83" y="560.90" font-size="6.3" stroke="#1a1a1a" stroke-width="0.15" text-anchor="end" fill="#1a1a1a" transform="rotate(-45 346.83 560.90)">0DPA</text>
<text x="370.69" y="560.90" font-size="6.3" stroke="#1a1a1a" stroke-width="0.15" text-anchor="end" fill="#1a1a1a" transform="rotate(-45 370.69 560.90)">5DPA</text>
<text x="394.55" y="560.90" font-size="6.3" stroke="#1a1a1a" stroke-width="0.15" text-anchor="end" fill="#1a1a1a" transform="rotate(-45 394.55 560.90)">10DPA</text>
<text x="418.41" y="560.90" font-size="6.3" stroke="#1a1a1a" stroke-width="0.15" text-anchor="end" fill="#1a1a1a" transform="rotate(-45 418.41 560.90)">15DPA</text>
<text x="442.27" y="560.90" font-size="6.3" stroke="#1a1a1a" stroke-width="0.15" text-anchor="end" fill="#1a1a1a" transform="rotate(-45 442.27 560.90)">20DPA</text>
<rect x="468.7" y="560" width="38.2" height="4.5" fill="url(#cg)"/>
<text x="470.90" y="570.30" font-size="4.6" text-anchor="middle" fill="#333"  stroke="#333" stroke-width="0.18">−10</text>
<text x="505.50" y="570.30" font-size="4.6" text-anchor="middle" fill="#333"  stroke="#333" stroke-width="0.18">10</text>
</svg></body></html>
